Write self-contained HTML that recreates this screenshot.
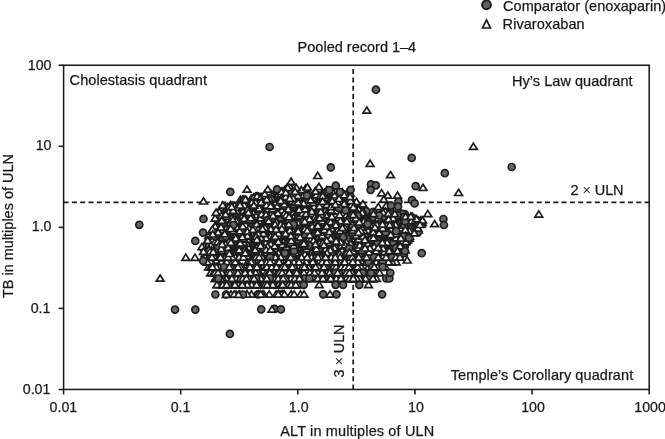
<!DOCTYPE html>
<html><head><meta charset="utf-8"><title>Pooled record 1–4</title>
<style>
html,body{margin:0;padding:0;background:#fff;}
svg{display:block;}
text{font-family:"Liberation Sans",Arial,Helvetica,sans-serif;font-size:14.2px;fill:#1a1a1a;stroke:#1a1a1a;stroke-width:0.25px;}
.lb text{font-size:14.5px;}
.mu{stroke-width:0;fill:#333;}
</style></head><body>
<svg width="665" height="439" viewBox="0 0 665 439">
<defs>
<circle id="c" r="3.5" fill="#666" stroke="#1e1e1e" stroke-width="1.7"/>
<path id="t" d="M0 -3.4 L3.9 2.8 L-3.9 2.8 Z" fill="#f6f6f6" stroke="#1e1e1e" stroke-width="1.7" stroke-linejoin="miter"/>
<filter id="bl" x="0" y="0" width="665" height="439" filterUnits="userSpaceOnUse"><feGaussianBlur stdDeviation="0.45"/></filter>
</defs>
<rect width="665" height="439" fill="#fff"/>
<g stroke="#1c1c1c" stroke-width="1.7" fill="none">
<line x1="63.6" y1="202.4" x2="649.2" y2="202.4" stroke-dasharray="5 3.3"/>
<line x1="353.2" y1="389.5" x2="353.2" y2="65.25" stroke-dasharray="5 3.3"/>
</g>
<g id="pts" filter="url(#bl)">
<use href="#t" x="271.4" y="195.9"/>
<use href="#t" x="212.1" y="244.1"/>
<use href="#c" x="208.7" y="240.6"/>
<use href="#t" x="295.2" y="278.5"/>
<use href="#t" x="247.7" y="257.3"/>
<use href="#t" x="331.2" y="226.7"/>
<use href="#t" x="345.8" y="223.7"/>
<use href="#t" x="355.6" y="230.6"/>
<use href="#t" x="333.2" y="233.8"/>
<use href="#t" x="382.5" y="267.0"/>
<use href="#t" x="330.6" y="242.8"/>
<use href="#t" x="367.1" y="213.1"/>
<use href="#t" x="222.9" y="229.4"/>
<use href="#c" x="230.9" y="238.3"/>
<use href="#t" x="352.7" y="272.8"/>
<use href="#t" x="401.6" y="216.3"/>
<use href="#t" x="335.3" y="249.7"/>
<use href="#t" x="262.2" y="225.3"/>
<use href="#t" x="225.5" y="208.0"/>
<use href="#t" x="279.7" y="284.8"/>
<use href="#t" x="250.1" y="237.8"/>
<use href="#t" x="282.1" y="248.0"/>
<use href="#t" x="358.0" y="241.6"/>
<use href="#t" x="287.6" y="227.0"/>
<use href="#c" x="218.9" y="222.6"/>
<use href="#c" x="401.3" y="253.9"/>
<use href="#t" x="254.5" y="220.5"/>
<use href="#t" x="224.0" y="284.8"/>
<use href="#t" x="305.0" y="237.6"/>
<use href="#t" x="219.1" y="219.9"/>
<use href="#t" x="256.6" y="222.9"/>
<use href="#t" x="377.2" y="243.7"/>
<use href="#t" x="272.8" y="204.9"/>
<use href="#c" x="317.2" y="221.6"/>
<use href="#t" x="281.1" y="204.6"/>
<use href="#t" x="241.4" y="202.6"/>
<use href="#c" x="349.1" y="278.5"/>
<use href="#c" x="372.0" y="236.9"/>
<use href="#t" x="381.2" y="218.7"/>
<use href="#c" x="324.5" y="193.4"/>
<use href="#t" x="415.3" y="231.4"/>
<use href="#t" x="264.1" y="207.1"/>
<use href="#t" x="256.2" y="229.5"/>
<use href="#t" x="409.8" y="221.3"/>
<use href="#t" x="235.7" y="236.3"/>
<use href="#t" x="326.3" y="217.8"/>
<use href="#t" x="326.1" y="272.8"/>
<use href="#t" x="327.2" y="208.1"/>
<use href="#t" x="377.3" y="240.6"/>
<use href="#t" x="339.6" y="240.3"/>
<use href="#t" x="358.5" y="233.7"/>
<use href="#t" x="353.0" y="272.8"/>
<use href="#t" x="231.4" y="267.0"/>
<use href="#t" x="228.7" y="284.8"/>
<use href="#t" x="233.1" y="231.1"/>
<use href="#t" x="275.0" y="201.5"/>
<use href="#c" x="342.2" y="241.2"/>
<use href="#t" x="219.7" y="210.3"/>
<use href="#c" x="357.4" y="230.3"/>
<use href="#t" x="398.6" y="233.9"/>
<use href="#t" x="225.5" y="243.0"/>
<use href="#t" x="242.6" y="216.1"/>
<use href="#t" x="374.2" y="213.3"/>
<use href="#c" x="237.0" y="220.5"/>
<use href="#t" x="325.0" y="200.7"/>
<use href="#t" x="297.0" y="239.0"/>
<use href="#t" x="287.8" y="240.5"/>
<use href="#t" x="361.8" y="257.3"/>
<use href="#t" x="211.7" y="267.0"/>
<use href="#t" x="252.2" y="213.7"/>
<use href="#t" x="232.2" y="232.9"/>
<use href="#t" x="307.0" y="240.0"/>
<use href="#c" x="216.2" y="227.1"/>
<use href="#t" x="333.2" y="243.3"/>
<use href="#t" x="350.2" y="267.0"/>
<use href="#t" x="286.9" y="217.9"/>
<use href="#t" x="230.3" y="267.0"/>
<use href="#t" x="343.1" y="267.0"/>
<use href="#t" x="227.9" y="242.6"/>
<use href="#c" x="358.6" y="205.8"/>
<use href="#t" x="326.8" y="257.3"/>
<use href="#c" x="355.6" y="238.3"/>
<use href="#t" x="321.3" y="257.3"/>
<use href="#t" x="257.7" y="267.0"/>
<use href="#t" x="285.3" y="237.0"/>
<use href="#t" x="376.0" y="254.3"/>
<use href="#t" x="370.4" y="215.1"/>
<use href="#t" x="353.6" y="262.0"/>
<use href="#t" x="263.6" y="241.7"/>
<use href="#t" x="305.1" y="191.8"/>
<use href="#t" x="332.2" y="194.8"/>
<use href="#t" x="249.6" y="284.8"/>
<use href="#t" x="301.4" y="214.8"/>
<use href="#t" x="276.2" y="216.6"/>
<use href="#t" x="280.1" y="230.6"/>
<use href="#t" x="257.7" y="241.0"/>
<use href="#t" x="386.6" y="257.3"/>
<use href="#t" x="372.6" y="257.3"/>
<use href="#t" x="306.4" y="220.1"/>
<use href="#t" x="349.8" y="214.7"/>
<use href="#t" x="288.1" y="198.0"/>
<use href="#t" x="246.9" y="294.3"/>
<use href="#t" x="256.0" y="248.4"/>
<use href="#t" x="371.9" y="228.7"/>
<use href="#t" x="318.7" y="224.2"/>
<use href="#t" x="224.7" y="240.1"/>
<use href="#t" x="253.6" y="227.1"/>
<use href="#t" x="406.4" y="236.3"/>
<use href="#t" x="318.3" y="262.0"/>
<use href="#t" x="365.3" y="257.3"/>
<use href="#c" x="302.9" y="246.1"/>
<use href="#t" x="347.3" y="215.1"/>
<use href="#t" x="254.4" y="257.3"/>
<use href="#t" x="332.6" y="225.6"/>
<use href="#c" x="403.6" y="236.6"/>
<use href="#t" x="354.2" y="229.6"/>
<use href="#t" x="369.4" y="240.3"/>
<use href="#t" x="249.5" y="204.7"/>
<use href="#t" x="239.2" y="205.0"/>
<use href="#t" x="287.9" y="203.7"/>
<use href="#t" x="287.8" y="284.8"/>
<use href="#t" x="272.7" y="200.2"/>
<use href="#t" x="284.4" y="223.8"/>
<use href="#t" x="255.7" y="272.8"/>
<use href="#t" x="275.0" y="211.1"/>
<use href="#t" x="340.6" y="209.9"/>
<use href="#c" x="269.7" y="211.5"/>
<use href="#t" x="286.2" y="208.5"/>
<use href="#t" x="377.4" y="253.1"/>
<use href="#t" x="270.4" y="222.3"/>
<use href="#t" x="325.4" y="217.8"/>
<use href="#t" x="362.5" y="233.0"/>
<use href="#t" x="293.4" y="257.3"/>
<use href="#t" x="223.6" y="284.8"/>
<use href="#t" x="328.8" y="223.7"/>
<use href="#t" x="242.0" y="208.0"/>
<use href="#t" x="231.2" y="284.8"/>
<use href="#t" x="272.0" y="226.6"/>
<use href="#t" x="314.7" y="206.0"/>
<use href="#t" x="307.0" y="278.5"/>
<use href="#c" x="399.4" y="233.3"/>
<use href="#t" x="335.7" y="257.3"/>
<use href="#t" x="282.0" y="194.7"/>
<use href="#t" x="255.2" y="252.1"/>
<use href="#t" x="243.0" y="278.5"/>
<use href="#t" x="324.8" y="257.3"/>
<use href="#t" x="233.6" y="262.0"/>
<use href="#t" x="261.9" y="215.5"/>
<use href="#t" x="268.7" y="248.0"/>
<use href="#t" x="293.3" y="284.8"/>
<use href="#t" x="280.9" y="201.7"/>
<use href="#t" x="295.0" y="278.5"/>
<use href="#c" x="403.3" y="234.8"/>
<use href="#t" x="282.5" y="240.2"/>
<use href="#t" x="261.9" y="242.3"/>
<use href="#t" x="220.7" y="238.5"/>
<use href="#t" x="232.8" y="272.8"/>
<use href="#t" x="290.5" y="284.8"/>
<use href="#t" x="238.2" y="204.3"/>
<use href="#t" x="317.2" y="225.1"/>
<use href="#t" x="253.3" y="267.0"/>
<use href="#t" x="204.7" y="247.5"/>
<use href="#t" x="336.5" y="245.9"/>
<use href="#t" x="267.3" y="229.6"/>
<use href="#t" x="295.5" y="257.3"/>
<use href="#t" x="310.5" y="206.5"/>
<use href="#c" x="379.1" y="234.4"/>
<use href="#t" x="306.7" y="190.4"/>
<use href="#t" x="216.6" y="232.4"/>
<use href="#t" x="204.6" y="257.3"/>
<use href="#t" x="368.1" y="272.8"/>
<use href="#t" x="207.8" y="240.1"/>
<use href="#t" x="277.8" y="272.8"/>
<use href="#t" x="228.9" y="239.9"/>
<use href="#t" x="244.2" y="209.9"/>
<use href="#t" x="222.2" y="243.5"/>
<use href="#t" x="279.9" y="284.8"/>
<use href="#t" x="331.3" y="222.1"/>
<use href="#t" x="299.4" y="199.1"/>
<use href="#c" x="351.6" y="216.2"/>
<use href="#t" x="297.0" y="241.2"/>
<use href="#t" x="220.1" y="221.8"/>
<use href="#t" x="332.7" y="250.8"/>
<use href="#t" x="342.2" y="236.5"/>
<use href="#t" x="217.6" y="257.3"/>
<use href="#t" x="379.6" y="227.4"/>
<use href="#t" x="277.7" y="257.3"/>
<use href="#t" x="290.8" y="206.8"/>
<use href="#t" x="338.5" y="240.5"/>
<use href="#c" x="379.8" y="267.0"/>
<use href="#t" x="370.1" y="233.7"/>
<use href="#t" x="274.2" y="272.8"/>
<use href="#t" x="325.7" y="231.6"/>
<use href="#t" x="318.5" y="210.2"/>
<use href="#t" x="272.1" y="284.8"/>
<use href="#t" x="251.4" y="294.3"/>
<use href="#t" x="298.2" y="267.0"/>
<use href="#t" x="267.6" y="203.6"/>
<use href="#c" x="276.4" y="194.8"/>
<use href="#c" x="359.5" y="267.0"/>
<use href="#t" x="334.4" y="222.5"/>
<use href="#t" x="344.7" y="278.5"/>
<use href="#t" x="261.7" y="267.0"/>
<use href="#c" x="395.9" y="254.5"/>
<use href="#t" x="292.4" y="231.7"/>
<use href="#t" x="276.8" y="267.0"/>
<use href="#t" x="246.1" y="284.8"/>
<use href="#t" x="242.7" y="272.8"/>
<use href="#t" x="276.9" y="278.5"/>
<use href="#c" x="360.1" y="239.4"/>
<use href="#t" x="359.5" y="272.8"/>
<use href="#t" x="278.9" y="227.3"/>
<use href="#t" x="407.7" y="239.8"/>
<use href="#t" x="320.4" y="272.8"/>
<use href="#t" x="347.5" y="220.7"/>
<use href="#t" x="231.7" y="284.8"/>
<use href="#c" x="377.5" y="249.6"/>
<use href="#t" x="240.2" y="214.8"/>
<use href="#t" x="253.4" y="217.9"/>
<use href="#t" x="233.0" y="218.1"/>
<use href="#t" x="297.6" y="201.6"/>
<use href="#t" x="358.7" y="239.7"/>
<use href="#t" x="304.3" y="194.8"/>
<use href="#t" x="290.5" y="267.0"/>
<use href="#t" x="296.5" y="248.9"/>
<use href="#t" x="294.4" y="205.6"/>
<use href="#t" x="396.2" y="262.0"/>
<use href="#t" x="302.1" y="216.2"/>
<use href="#t" x="218.1" y="229.6"/>
<use href="#t" x="363.3" y="257.3"/>
<use href="#t" x="295.0" y="234.0"/>
<use href="#t" x="291.6" y="262.0"/>
<use href="#t" x="238.2" y="257.3"/>
<use href="#t" x="286.7" y="238.4"/>
<use href="#t" x="218.9" y="249.0"/>
<use href="#t" x="364.3" y="241.2"/>
<use href="#t" x="390.6" y="242.4"/>
<use href="#t" x="287.6" y="272.8"/>
<use href="#c" x="259.7" y="227.1"/>
<use href="#t" x="293.8" y="229.7"/>
<use href="#t" x="278.1" y="210.2"/>
<use href="#t" x="246.7" y="278.5"/>
<use href="#t" x="386.1" y="257.3"/>
<use href="#t" x="327.6" y="205.3"/>
<use href="#t" x="278.3" y="257.3"/>
<use href="#t" x="387.6" y="235.7"/>
<use href="#t" x="324.4" y="192.7"/>
<use href="#t" x="278.7" y="284.8"/>
<use href="#t" x="283.8" y="208.8"/>
<use href="#t" x="261.4" y="207.7"/>
<use href="#t" x="308.2" y="230.7"/>
<use href="#t" x="350.6" y="222.4"/>
<use href="#c" x="391.2" y="257.3"/>
<use href="#t" x="250.1" y="272.8"/>
<use href="#t" x="231.0" y="294.3"/>
<use href="#t" x="320.3" y="272.8"/>
<use href="#c" x="403.3" y="246.5"/>
<use href="#t" x="208.8" y="235.5"/>
<use href="#t" x="312.6" y="244.6"/>
<use href="#t" x="327.8" y="262.0"/>
<use href="#t" x="283.5" y="229.5"/>
<use href="#t" x="212.8" y="257.3"/>
<use href="#t" x="414.8" y="218.4"/>
<use href="#t" x="315.5" y="237.7"/>
<use href="#t" x="274.9" y="284.8"/>
<use href="#t" x="307.0" y="242.8"/>
<use href="#t" x="244.7" y="231.5"/>
<use href="#t" x="325.8" y="278.5"/>
<use href="#t" x="390.3" y="227.6"/>
<use href="#t" x="259.1" y="240.5"/>
<use href="#t" x="349.5" y="278.5"/>
<use href="#t" x="269.8" y="214.5"/>
<use href="#c" x="344.8" y="272.8"/>
<use href="#t" x="239.8" y="294.3"/>
<use href="#t" x="340.5" y="257.3"/>
<use href="#t" x="335.7" y="262.0"/>
<use href="#t" x="352.4" y="234.4"/>
<use href="#t" x="282.1" y="278.5"/>
<use href="#t" x="327.7" y="209.3"/>
<use href="#t" x="294.5" y="216.9"/>
<use href="#t" x="386.2" y="249.1"/>
<use href="#t" x="307.2" y="228.7"/>
<use href="#t" x="347.1" y="203.6"/>
<use href="#t" x="214.9" y="257.3"/>
<use href="#t" x="234.2" y="284.8"/>
<use href="#t" x="298.5" y="262.0"/>
<use href="#t" x="383.2" y="222.5"/>
<use href="#t" x="343.6" y="229.4"/>
<use href="#t" x="328.8" y="213.6"/>
<use href="#t" x="273.4" y="252.9"/>
<use href="#t" x="391.2" y="252.3"/>
<use href="#t" x="296.1" y="284.8"/>
<use href="#t" x="356.6" y="252.4"/>
<use href="#c" x="385.6" y="212.5"/>
<use href="#t" x="257.1" y="229.9"/>
<use href="#t" x="330.0" y="211.3"/>
<use href="#t" x="385.5" y="262.0"/>
<use href="#t" x="354.9" y="235.3"/>
<use href="#t" x="255.1" y="272.8"/>
<use href="#t" x="307.5" y="250.8"/>
<use href="#t" x="240.4" y="199.6"/>
<use href="#t" x="280.6" y="247.7"/>
<use href="#c" x="317.1" y="195.7"/>
<use href="#t" x="344.3" y="278.5"/>
<use href="#t" x="335.9" y="220.2"/>
<use href="#t" x="399.4" y="237.9"/>
<use href="#t" x="256.7" y="272.8"/>
<use href="#t" x="242.4" y="199.6"/>
<use href="#t" x="207.0" y="246.8"/>
<use href="#t" x="210.1" y="251.9"/>
<use href="#t" x="328.2" y="257.3"/>
<use href="#t" x="353.1" y="226.3"/>
<use href="#t" x="278.1" y="294.3"/>
<use href="#t" x="229.2" y="272.8"/>
<use href="#t" x="354.7" y="214.4"/>
<use href="#t" x="234.8" y="206.9"/>
<use href="#t" x="247.1" y="294.3"/>
<use href="#t" x="228.0" y="233.0"/>
<use href="#t" x="301.8" y="219.6"/>
<use href="#t" x="307.7" y="257.3"/>
<use href="#t" x="325.6" y="195.1"/>
<use href="#t" x="257.9" y="228.6"/>
<use href="#t" x="259.0" y="284.8"/>
<use href="#t" x="234.6" y="238.5"/>
<use href="#t" x="244.8" y="236.8"/>
<use href="#t" x="255.8" y="202.3"/>
<use href="#t" x="208.6" y="267.0"/>
<use href="#c" x="275.5" y="194.6"/>
<use href="#c" x="391.4" y="243.0"/>
<use href="#t" x="329.8" y="194.3"/>
<use href="#c" x="376.8" y="267.0"/>
<use href="#t" x="311.9" y="211.3"/>
<use href="#t" x="339.5" y="267.0"/>
<use href="#t" x="332.6" y="202.3"/>
<use href="#t" x="367.9" y="228.1"/>
<use href="#c" x="391.3" y="223.0"/>
<use href="#c" x="282.6" y="251.5"/>
<use href="#t" x="317.7" y="232.9"/>
<use href="#t" x="223.5" y="267.0"/>
<use href="#t" x="399.3" y="217.2"/>
<use href="#t" x="285.0" y="272.8"/>
<use href="#t" x="316.1" y="243.5"/>
<use href="#t" x="336.5" y="249.2"/>
<use href="#t" x="311.5" y="239.7"/>
<use href="#t" x="223.8" y="227.8"/>
<use href="#t" x="330.2" y="272.8"/>
<use href="#t" x="294.2" y="284.8"/>
<use href="#t" x="274.9" y="207.1"/>
<use href="#t" x="207.6" y="241.8"/>
<use href="#t" x="344.3" y="222.7"/>
<use href="#t" x="211.3" y="231.3"/>
<use href="#t" x="355.1" y="211.3"/>
<use href="#t" x="317.8" y="231.3"/>
<use href="#t" x="262.9" y="215.3"/>
<use href="#t" x="223.4" y="251.5"/>
<use href="#t" x="316.3" y="210.6"/>
<use href="#t" x="321.0" y="195.6"/>
<use href="#t" x="226.0" y="213.8"/>
<use href="#t" x="263.0" y="207.5"/>
<use href="#t" x="329.6" y="257.3"/>
<use href="#t" x="362.6" y="234.7"/>
<use href="#t" x="339.6" y="235.8"/>
<use href="#t" x="252.2" y="204.8"/>
<use href="#c" x="285.4" y="250.4"/>
<use href="#t" x="278.2" y="284.8"/>
<use href="#t" x="326.4" y="238.6"/>
<use href="#t" x="298.8" y="267.0"/>
<use href="#t" x="231.5" y="219.2"/>
<use href="#t" x="354.4" y="254.2"/>
<use href="#t" x="388.8" y="241.9"/>
<use href="#t" x="370.4" y="272.8"/>
<use href="#t" x="380.2" y="267.0"/>
<use href="#c" x="225.0" y="284.8"/>
<use href="#t" x="375.7" y="250.4"/>
<use href="#t" x="284.6" y="233.7"/>
<use href="#t" x="365.6" y="213.7"/>
<use href="#t" x="326.1" y="225.2"/>
<use href="#t" x="299.8" y="200.1"/>
<use href="#t" x="229.2" y="249.1"/>
<use href="#t" x="243.2" y="230.4"/>
<use href="#t" x="317.1" y="262.0"/>
<use href="#t" x="279.4" y="251.5"/>
<use href="#t" x="218.4" y="223.9"/>
<use href="#t" x="327.5" y="248.9"/>
<use href="#t" x="320.1" y="278.5"/>
<use href="#t" x="316.0" y="190.8"/>
<use href="#t" x="357.8" y="278.5"/>
<use href="#c" x="404.6" y="229.7"/>
<use href="#t" x="263.4" y="241.1"/>
<use href="#t" x="337.3" y="221.3"/>
<use href="#t" x="380.9" y="215.4"/>
<use href="#t" x="333.3" y="262.0"/>
<use href="#t" x="312.5" y="246.3"/>
<use href="#t" x="347.6" y="243.6"/>
<use href="#t" x="330.6" y="228.5"/>
<use href="#t" x="232.0" y="272.8"/>
<use href="#t" x="389.3" y="253.8"/>
<use href="#t" x="271.2" y="267.0"/>
<use href="#t" x="235.0" y="210.4"/>
<use href="#t" x="301.2" y="225.3"/>
<use href="#t" x="405.2" y="250.0"/>
<use href="#t" x="298.8" y="257.3"/>
<use href="#t" x="269.3" y="294.3"/>
<use href="#t" x="401.6" y="237.7"/>
<use href="#t" x="252.4" y="198.7"/>
<use href="#t" x="327.5" y="191.4"/>
<use href="#t" x="286.0" y="227.5"/>
<use href="#t" x="224.1" y="278.5"/>
<use href="#t" x="252.8" y="201.0"/>
<use href="#t" x="275.6" y="196.5"/>
<use href="#t" x="225.2" y="232.5"/>
<use href="#t" x="365.5" y="224.2"/>
<use href="#t" x="248.6" y="233.7"/>
<use href="#t" x="333.7" y="223.1"/>
<use href="#t" x="338.5" y="203.6"/>
<use href="#t" x="224.0" y="241.3"/>
<use href="#t" x="258.8" y="272.8"/>
<use href="#t" x="350.2" y="248.1"/>
<use href="#t" x="287.0" y="187.8"/>
<use href="#t" x="395.8" y="217.2"/>
<use href="#t" x="220.7" y="247.4"/>
<use href="#t" x="313.1" y="214.2"/>
<use href="#t" x="268.5" y="205.4"/>
<use href="#t" x="364.1" y="212.4"/>
<use href="#t" x="277.9" y="228.7"/>
<use href="#t" x="278.1" y="257.3"/>
<use href="#t" x="345.6" y="199.5"/>
<use href="#t" x="329.6" y="267.0"/>
<use href="#t" x="297.6" y="262.0"/>
<use href="#t" x="221.2" y="278.5"/>
<use href="#t" x="358.9" y="226.3"/>
<use href="#c" x="390.6" y="212.2"/>
<use href="#t" x="418.3" y="230.1"/>
<use href="#t" x="358.2" y="267.0"/>
<use href="#c" x="343.2" y="233.7"/>
<use href="#t" x="359.8" y="230.7"/>
<use href="#t" x="256.6" y="245.5"/>
<use href="#t" x="345.5" y="245.2"/>
<use href="#t" x="242.5" y="215.9"/>
<use href="#t" x="361.8" y="262.0"/>
<use href="#t" x="252.0" y="241.6"/>
<use href="#t" x="415.9" y="221.0"/>
<use href="#t" x="273.7" y="278.5"/>
<use href="#t" x="336.3" y="234.8"/>
<use href="#t" x="280.1" y="202.9"/>
<use href="#t" x="261.3" y="201.7"/>
<use href="#t" x="300.7" y="191.2"/>
<use href="#t" x="305.6" y="222.5"/>
<use href="#t" x="310.4" y="231.4"/>
<use href="#t" x="347.1" y="257.3"/>
<use href="#t" x="349.0" y="208.5"/>
<use href="#c" x="393.1" y="214.1"/>
<use href="#t" x="234.8" y="272.8"/>
<use href="#t" x="370.2" y="217.9"/>
<use href="#t" x="389.8" y="217.1"/>
<use href="#t" x="325.1" y="223.3"/>
<use href="#t" x="343.3" y="278.5"/>
<use href="#t" x="312.9" y="196.7"/>
<use href="#t" x="233.6" y="232.5"/>
<use href="#c" x="240.0" y="267.0"/>
<use href="#t" x="295.4" y="212.5"/>
<use href="#t" x="316.5" y="229.8"/>
<use href="#t" x="298.5" y="262.0"/>
<use href="#t" x="299.6" y="247.6"/>
<use href="#c" x="341.3" y="278.5"/>
<use href="#t" x="354.6" y="253.3"/>
<use href="#t" x="347.8" y="214.5"/>
<use href="#c" x="355.2" y="233.1"/>
<use href="#t" x="350.9" y="223.6"/>
<use href="#t" x="293.3" y="243.4"/>
<use href="#t" x="288.5" y="191.3"/>
<use href="#c" x="405.0" y="245.7"/>
<use href="#t" x="320.3" y="208.5"/>
<use href="#t" x="325.7" y="205.4"/>
<use href="#t" x="221.7" y="241.3"/>
<use href="#t" x="213.9" y="228.1"/>
<use href="#t" x="298.7" y="284.8"/>
<use href="#c" x="363.6" y="272.8"/>
<use href="#c" x="390.9" y="226.1"/>
<use href="#t" x="227.3" y="272.8"/>
<use href="#c" x="250.9" y="223.7"/>
<use href="#t" x="335.3" y="203.7"/>
<use href="#t" x="362.0" y="230.4"/>
<use href="#t" x="370.9" y="219.8"/>
<use href="#c" x="355.6" y="278.5"/>
<use href="#t" x="283.0" y="267.0"/>
<use href="#t" x="218.5" y="245.8"/>
<use href="#t" x="255.1" y="201.2"/>
<use href="#c" x="392.8" y="249.8"/>
<use href="#t" x="238.7" y="246.4"/>
<use href="#t" x="357.2" y="224.7"/>
<use href="#t" x="401.6" y="244.5"/>
<use href="#t" x="275.8" y="195.9"/>
<use href="#t" x="238.0" y="278.5"/>
<use href="#t" x="287.6" y="236.6"/>
<use href="#t" x="394.4" y="226.3"/>
<use href="#t" x="246.1" y="284.8"/>
<use href="#t" x="305.4" y="249.3"/>
<use href="#t" x="353.3" y="211.2"/>
<use href="#t" x="313.0" y="209.8"/>
<use href="#t" x="344.8" y="222.5"/>
<use href="#t" x="355.8" y="215.1"/>
<use href="#t" x="369.5" y="240.8"/>
<use href="#t" x="277.7" y="246.0"/>
<use href="#t" x="252.4" y="206.4"/>
<use href="#t" x="301.9" y="232.8"/>
<use href="#t" x="266.4" y="198.2"/>
<use href="#t" x="266.2" y="215.7"/>
<use href="#t" x="237.2" y="249.7"/>
<use href="#t" x="279.2" y="272.8"/>
<use href="#t" x="242.3" y="252.5"/>
<use href="#t" x="348.0" y="201.6"/>
<use href="#t" x="245.1" y="217.9"/>
<use href="#t" x="348.1" y="227.8"/>
<use href="#t" x="205.7" y="257.3"/>
<use href="#t" x="311.7" y="251.9"/>
<use href="#t" x="339.9" y="267.0"/>
<use href="#t" x="294.9" y="244.5"/>
<use href="#t" x="326.0" y="257.3"/>
<use href="#t" x="273.1" y="267.0"/>
<use href="#t" x="362.9" y="272.8"/>
<use href="#t" x="268.0" y="272.8"/>
<use href="#t" x="301.9" y="211.9"/>
<use href="#t" x="307.3" y="257.3"/>
<use href="#t" x="326.0" y="199.8"/>
<use href="#t" x="281.3" y="195.7"/>
<use href="#t" x="276.2" y="278.5"/>
<use href="#t" x="289.8" y="284.8"/>
<use href="#t" x="328.2" y="228.4"/>
<use href="#t" x="254.5" y="209.9"/>
<use href="#t" x="249.6" y="202.5"/>
<use href="#t" x="346.7" y="214.4"/>
<use href="#t" x="246.1" y="248.4"/>
<use href="#t" x="372.4" y="278.5"/>
<use href="#t" x="273.2" y="237.8"/>
<use href="#t" x="233.1" y="262.0"/>
<use href="#t" x="301.9" y="249.6"/>
<use href="#t" x="244.5" y="284.8"/>
<use href="#c" x="381.9" y="262.0"/>
<use href="#t" x="314.1" y="206.0"/>
<use href="#t" x="269.7" y="284.8"/>
<use href="#t" x="310.0" y="194.0"/>
<use href="#t" x="237.2" y="262.0"/>
<use href="#c" x="369.2" y="239.7"/>
<use href="#t" x="278.4" y="239.2"/>
<use href="#t" x="277.5" y="204.0"/>
<use href="#t" x="236.8" y="210.2"/>
<use href="#c" x="326.4" y="222.4"/>
<use href="#t" x="357.4" y="257.3"/>
<use href="#t" x="324.5" y="262.0"/>
<use href="#t" x="270.1" y="229.5"/>
<use href="#t" x="286.4" y="225.3"/>
<use href="#t" x="339.2" y="224.2"/>
<use href="#t" x="358.8" y="217.6"/>
<use href="#t" x="324.6" y="216.5"/>
<use href="#t" x="315.4" y="251.2"/>
<use href="#t" x="250.3" y="257.3"/>
<use href="#t" x="284.4" y="267.0"/>
<use href="#t" x="319.2" y="253.8"/>
<use href="#t" x="271.0" y="257.3"/>
<use href="#t" x="247.7" y="253.7"/>
<use href="#t" x="409.5" y="236.3"/>
<use href="#t" x="318.2" y="236.7"/>
<use href="#t" x="318.6" y="243.1"/>
<use href="#t" x="251.3" y="198.6"/>
<use href="#t" x="303.6" y="257.3"/>
<use href="#t" x="285.0" y="278.5"/>
<use href="#t" x="219.3" y="221.7"/>
<use href="#t" x="318.0" y="233.7"/>
<use href="#t" x="301.0" y="236.9"/>
<use href="#t" x="281.6" y="242.2"/>
<use href="#t" x="282.5" y="219.6"/>
<use href="#t" x="259.8" y="217.6"/>
<use href="#t" x="382.0" y="254.4"/>
<use href="#t" x="363.2" y="214.0"/>
<use href="#t" x="348.0" y="278.5"/>
<use href="#t" x="285.9" y="249.5"/>
<use href="#t" x="282.9" y="262.0"/>
<use href="#t" x="211.7" y="272.8"/>
<use href="#t" x="319.1" y="239.2"/>
<use href="#t" x="304.2" y="234.9"/>
<use href="#t" x="292.9" y="236.3"/>
<use href="#t" x="298.8" y="238.6"/>
<use href="#t" x="389.6" y="262.0"/>
<use href="#t" x="325.7" y="272.8"/>
<use href="#c" x="372.8" y="247.7"/>
<use href="#t" x="355.7" y="267.0"/>
<use href="#t" x="207.9" y="262.0"/>
<use href="#t" x="259.8" y="209.9"/>
<use href="#t" x="255.2" y="284.8"/>
<use href="#t" x="315.6" y="229.7"/>
<use href="#t" x="266.9" y="284.8"/>
<use href="#t" x="207.3" y="244.3"/>
<use href="#t" x="304.6" y="238.3"/>
<use href="#t" x="281.3" y="278.5"/>
<use href="#t" x="269.2" y="243.8"/>
<use href="#t" x="328.3" y="217.5"/>
<use href="#t" x="382.9" y="213.5"/>
<use href="#t" x="384.4" y="251.2"/>
<use href="#t" x="415.6" y="232.7"/>
<use href="#t" x="335.7" y="199.6"/>
<use href="#t" x="327.4" y="278.5"/>
<use href="#t" x="354.0" y="262.0"/>
<use href="#t" x="244.8" y="284.8"/>
<use href="#t" x="217.5" y="272.8"/>
<use href="#t" x="292.9" y="257.3"/>
<use href="#c" x="208.4" y="262.0"/>
<use href="#c" x="392.3" y="213.8"/>
<use href="#t" x="332.4" y="216.9"/>
<use href="#t" x="284.7" y="257.3"/>
<use href="#t" x="366.9" y="230.9"/>
<use href="#t" x="222.0" y="278.5"/>
<use href="#t" x="319.2" y="213.4"/>
<use href="#t" x="372.1" y="239.2"/>
<use href="#t" x="216.9" y="237.7"/>
<use href="#t" x="336.1" y="244.8"/>
<use href="#t" x="228.0" y="211.0"/>
<use href="#t" x="253.4" y="272.8"/>
<use href="#c" x="380.9" y="214.4"/>
<use href="#t" x="381.0" y="251.6"/>
<use href="#t" x="278.3" y="224.0"/>
<use href="#t" x="273.3" y="284.8"/>
<use href="#t" x="308.3" y="195.7"/>
<use href="#t" x="321.5" y="191.7"/>
<use href="#t" x="233.7" y="244.1"/>
<use href="#t" x="281.6" y="201.8"/>
<use href="#t" x="400.7" y="239.9"/>
<use href="#t" x="381.7" y="248.5"/>
<use href="#t" x="249.1" y="272.8"/>
<use href="#t" x="317.3" y="213.6"/>
<use href="#t" x="214.9" y="249.5"/>
<use href="#t" x="335.5" y="272.8"/>
<use href="#t" x="358.3" y="278.5"/>
<use href="#t" x="386.3" y="234.9"/>
<use href="#t" x="291.1" y="188.0"/>
<use href="#c" x="368.2" y="262.0"/>
<use href="#t" x="276.3" y="194.6"/>
<use href="#t" x="246.8" y="218.5"/>
<use href="#t" x="312.4" y="272.8"/>
<use href="#t" x="372.3" y="257.3"/>
<use href="#t" x="216.8" y="267.0"/>
<use href="#t" x="297.7" y="278.5"/>
<use href="#t" x="400.5" y="214.5"/>
<use href="#t" x="303.1" y="206.7"/>
<use href="#t" x="287.5" y="272.8"/>
<use href="#t" x="290.9" y="187.9"/>
<use href="#t" x="392.4" y="219.6"/>
<use href="#t" x="386.7" y="229.5"/>
<use href="#t" x="303.0" y="219.0"/>
<use href="#t" x="278.5" y="284.8"/>
<use href="#t" x="360.5" y="232.4"/>
<use href="#t" x="247.9" y="284.8"/>
<use href="#t" x="406.0" y="226.4"/>
<use href="#t" x="239.7" y="278.5"/>
<use href="#t" x="254.2" y="221.1"/>
<use href="#t" x="283.9" y="294.3"/>
<use href="#t" x="212.9" y="257.3"/>
<use href="#t" x="421.1" y="222.3"/>
<use href="#t" x="344.1" y="224.1"/>
<use href="#t" x="392.0" y="262.0"/>
<use href="#t" x="300.7" y="272.8"/>
<use href="#c" x="367.0" y="272.8"/>
<use href="#t" x="271.7" y="194.2"/>
<use href="#t" x="371.4" y="257.3"/>
<use href="#t" x="374.9" y="213.5"/>
<use href="#t" x="385.0" y="262.0"/>
<use href="#t" x="260.5" y="197.3"/>
<use href="#t" x="228.0" y="241.7"/>
<use href="#t" x="233.3" y="267.0"/>
<use href="#t" x="239.2" y="215.8"/>
<use href="#t" x="241.6" y="217.2"/>
<use href="#t" x="392.6" y="257.3"/>
<use href="#t" x="269.3" y="196.1"/>
<use href="#t" x="306.0" y="247.0"/>
<use href="#t" x="343.7" y="209.5"/>
<use href="#t" x="372.9" y="262.0"/>
<use href="#t" x="358.3" y="272.8"/>
<use href="#t" x="287.6" y="278.5"/>
<use href="#t" x="238.8" y="284.8"/>
<use href="#t" x="318.0" y="262.0"/>
<use href="#t" x="226.5" y="219.4"/>
<use href="#t" x="292.5" y="239.9"/>
<use href="#t" x="352.6" y="249.4"/>
<use href="#t" x="330.4" y="211.3"/>
<use href="#t" x="353.5" y="272.8"/>
<use href="#t" x="388.8" y="257.3"/>
<use href="#t" x="226.0" y="267.0"/>
<use href="#c" x="339.5" y="211.5"/>
<use href="#t" x="337.4" y="278.5"/>
<use href="#t" x="245.3" y="205.1"/>
<use href="#t" x="279.9" y="267.0"/>
<use href="#c" x="392.9" y="217.7"/>
<use href="#t" x="343.5" y="194.4"/>
<use href="#t" x="275.3" y="218.5"/>
<use href="#t" x="246.4" y="278.5"/>
<use href="#t" x="314.1" y="230.1"/>
<use href="#t" x="343.7" y="267.0"/>
<use href="#t" x="289.4" y="241.2"/>
<use href="#t" x="248.4" y="284.8"/>
<use href="#t" x="226.6" y="233.9"/>
<use href="#t" x="362.2" y="234.0"/>
<use href="#t" x="239.8" y="227.5"/>
<use href="#t" x="240.8" y="267.0"/>
<use href="#t" x="298.5" y="201.8"/>
<use href="#t" x="241.4" y="210.3"/>
<use href="#t" x="343.7" y="210.1"/>
<use href="#t" x="233.6" y="257.3"/>
<use href="#t" x="278.8" y="294.3"/>
<use href="#t" x="378.5" y="236.0"/>
<use href="#t" x="328.0" y="240.6"/>
<use href="#t" x="298.1" y="267.0"/>
<use href="#c" x="380.5" y="235.1"/>
<use href="#c" x="404.8" y="243.9"/>
<use href="#t" x="271.3" y="257.3"/>
<use href="#t" x="309.3" y="257.3"/>
<use href="#t" x="219.5" y="251.1"/>
<use href="#t" x="242.2" y="234.2"/>
<use href="#t" x="345.2" y="267.0"/>
<use href="#t" x="210.9" y="267.0"/>
<use href="#t" x="306.1" y="227.1"/>
<use href="#t" x="358.3" y="236.1"/>
<use href="#t" x="287.6" y="278.5"/>
<use href="#c" x="344.6" y="272.8"/>
<use href="#c" x="257.1" y="196.2"/>
<use href="#t" x="233.4" y="241.2"/>
<use href="#t" x="388.8" y="240.0"/>
<use href="#t" x="335.3" y="278.5"/>
<use href="#t" x="207.8" y="245.3"/>
<use href="#t" x="303.1" y="192.3"/>
<use href="#t" x="243.9" y="230.8"/>
<use href="#t" x="217.2" y="267.0"/>
<use href="#t" x="266.4" y="272.8"/>
<use href="#t" x="358.4" y="252.0"/>
<use href="#t" x="302.5" y="228.0"/>
<use href="#t" x="395.6" y="231.0"/>
<use href="#t" x="277.2" y="217.6"/>
<use href="#c" x="253.9" y="228.7"/>
<use href="#t" x="249.5" y="284.8"/>
<use href="#t" x="272.6" y="272.8"/>
<use href="#t" x="219.7" y="278.5"/>
<use href="#t" x="343.0" y="223.0"/>
<use href="#t" x="348.4" y="244.5"/>
<use href="#t" x="291.2" y="294.3"/>
<use href="#t" x="298.4" y="262.0"/>
<use href="#t" x="371.1" y="272.8"/>
<use href="#t" x="244.4" y="209.5"/>
<use href="#t" x="346.8" y="251.1"/>
<use href="#t" x="336.1" y="262.0"/>
<use href="#t" x="280.3" y="194.8"/>
<use href="#t" x="259.5" y="272.8"/>
<use href="#t" x="218.6" y="215.0"/>
<use href="#t" x="357.7" y="232.7"/>
<use href="#t" x="248.4" y="284.8"/>
<use href="#c" x="353.3" y="211.8"/>
<use href="#t" x="350.6" y="250.5"/>
<use href="#t" x="329.4" y="205.0"/>
<use href="#t" x="422.3" y="222.6"/>
<use href="#t" x="227.7" y="278.5"/>
<use href="#t" x="281.4" y="242.5"/>
<use href="#t" x="253.6" y="278.5"/>
<use href="#t" x="284.9" y="272.8"/>
<use href="#t" x="240.8" y="204.4"/>
<use href="#t" x="281.2" y="257.3"/>
<use href="#t" x="298.4" y="191.5"/>
<use href="#t" x="308.2" y="198.8"/>
<use href="#t" x="298.9" y="191.8"/>
<use href="#t" x="280.2" y="235.8"/>
<use href="#t" x="370.6" y="247.5"/>
<use href="#t" x="235.3" y="284.8"/>
<use href="#t" x="303.8" y="267.0"/>
<use href="#t" x="301.9" y="216.8"/>
<use href="#t" x="351.5" y="222.3"/>
<use href="#t" x="321.8" y="206.3"/>
<use href="#t" x="337.8" y="257.3"/>
<use href="#t" x="397.3" y="223.1"/>
<use href="#t" x="237.9" y="205.4"/>
<use href="#t" x="240.2" y="272.8"/>
<use href="#t" x="416.7" y="227.4"/>
<use href="#t" x="307.6" y="241.1"/>
<use href="#t" x="246.1" y="278.5"/>
<use href="#c" x="276.0" y="262.0"/>
<use href="#t" x="283.3" y="197.3"/>
<use href="#t" x="302.2" y="247.4"/>
<use href="#t" x="227.5" y="207.1"/>
<use href="#t" x="318.2" y="249.9"/>
<use href="#t" x="333.2" y="233.7"/>
<use href="#t" x="294.1" y="243.3"/>
<use href="#t" x="385.5" y="257.3"/>
<use href="#t" x="333.4" y="278.5"/>
<use href="#t" x="358.3" y="209.0"/>
<use href="#t" x="281.4" y="242.6"/>
<use href="#t" x="212.3" y="267.0"/>
<use href="#t" x="306.3" y="262.0"/>
<use href="#t" x="362.4" y="257.3"/>
<use href="#t" x="249.9" y="267.0"/>
<use href="#t" x="351.5" y="272.8"/>
<use href="#t" x="247.5" y="203.9"/>
<use href="#t" x="294.3" y="186.7"/>
<use href="#t" x="361.2" y="231.8"/>
<use href="#t" x="233.0" y="223.3"/>
<use href="#t" x="344.8" y="267.0"/>
<use href="#t" x="241.3" y="272.8"/>
<use href="#t" x="255.4" y="278.5"/>
<use href="#c" x="366.2" y="211.1"/>
<use href="#c" x="235.9" y="262.0"/>
<use href="#t" x="249.3" y="210.2"/>
<use href="#t" x="274.1" y="242.4"/>
<use href="#t" x="293.5" y="237.0"/>
<use href="#t" x="216.6" y="257.3"/>
<use href="#t" x="257.1" y="278.5"/>
<use href="#t" x="275.6" y="238.6"/>
<use href="#t" x="231.3" y="262.0"/>
<use href="#t" x="240.1" y="267.0"/>
<use href="#t" x="351.6" y="247.8"/>
<use href="#t" x="240.5" y="250.0"/>
<use href="#t" x="344.6" y="207.2"/>
<use href="#t" x="294.9" y="243.8"/>
<use href="#t" x="263.6" y="257.3"/>
<use href="#t" x="268.4" y="262.0"/>
<use href="#t" x="232.1" y="205.4"/>
<use href="#t" x="382.5" y="215.8"/>
<use href="#t" x="304.0" y="201.8"/>
<use href="#t" x="314.6" y="242.3"/>
<use href="#t" x="364.1" y="243.3"/>
<use href="#t" x="309.1" y="208.7"/>
<use href="#t" x="247.4" y="216.9"/>
<use href="#t" x="363.1" y="272.8"/>
<use href="#t" x="300.5" y="294.3"/>
<use href="#t" x="219.8" y="234.1"/>
<use href="#c" x="341.2" y="214.6"/>
<use href="#t" x="372.2" y="272.8"/>
<use href="#t" x="215.2" y="226.4"/>
<use href="#t" x="375.5" y="230.4"/>
<use href="#t" x="222.6" y="209.5"/>
<use href="#t" x="304.8" y="267.0"/>
<use href="#t" x="220.3" y="278.5"/>
<use href="#t" x="253.5" y="209.0"/>
<use href="#t" x="270.8" y="198.7"/>
<use href="#t" x="275.6" y="200.5"/>
<use href="#t" x="281.3" y="223.9"/>
<use href="#t" x="284.3" y="190.8"/>
<use href="#t" x="409.7" y="228.4"/>
<use href="#t" x="366.8" y="272.8"/>
<use href="#t" x="254.8" y="257.3"/>
<use href="#t" x="274.4" y="278.5"/>
<use href="#c" x="354.8" y="257.3"/>
<use href="#t" x="400.4" y="245.6"/>
<use href="#t" x="275.1" y="272.8"/>
<use href="#t" x="241.8" y="234.9"/>
<use href="#c" x="401.3" y="248.8"/>
<use href="#t" x="333.6" y="278.5"/>
<use href="#t" x="309.2" y="229.2"/>
<use href="#t" x="352.1" y="203.1"/>
<use href="#t" x="334.4" y="231.2"/>
<use href="#t" x="296.3" y="188.6"/>
<use href="#t" x="247.5" y="272.8"/>
<use href="#t" x="246.7" y="284.8"/>
<use href="#t" x="297.3" y="224.7"/>
<use href="#t" x="272.7" y="267.0"/>
<use href="#t" x="324.1" y="239.7"/>
<use href="#t" x="327.4" y="278.5"/>
<use href="#t" x="400.0" y="222.3"/>
<use href="#t" x="228.9" y="257.3"/>
<use href="#t" x="295.0" y="252.4"/>
<use href="#t" x="260.1" y="229.7"/>
<use href="#t" x="305.5" y="188.6"/>
<use href="#t" x="364.2" y="272.8"/>
<use href="#t" x="255.3" y="241.7"/>
<use href="#t" x="333.2" y="267.0"/>
<use href="#t" x="363.1" y="267.0"/>
<use href="#c" x="417.8" y="232.5"/>
<use href="#c" x="383.1" y="262.0"/>
<use href="#t" x="303.6" y="257.3"/>
<use href="#t" x="274.3" y="272.8"/>
<use href="#t" x="340.9" y="215.0"/>
<use href="#t" x="269.5" y="240.2"/>
<use href="#t" x="308.2" y="232.1"/>
<use href="#t" x="241.7" y="251.2"/>
<use href="#t" x="295.3" y="221.1"/>
<use href="#t" x="287.5" y="196.1"/>
<use href="#t" x="366.9" y="221.4"/>
<use href="#t" x="412.2" y="227.3"/>
<use href="#t" x="265.4" y="246.4"/>
<use href="#t" x="281.3" y="284.8"/>
<use href="#t" x="334.2" y="262.0"/>
<use href="#t" x="308.2" y="239.1"/>
<use href="#t" x="406.3" y="220.8"/>
<use href="#t" x="273.5" y="225.5"/>
<use href="#t" x="286.5" y="222.5"/>
<use href="#t" x="322.2" y="211.6"/>
<use href="#c" x="413.3" y="231.4"/>
<use href="#c" x="362.2" y="257.3"/>
<use href="#t" x="254.8" y="206.2"/>
<use href="#t" x="381.7" y="249.1"/>
<use href="#t" x="403.0" y="252.3"/>
<use href="#t" x="236.3" y="225.0"/>
<use href="#t" x="292.7" y="262.0"/>
<use href="#t" x="366.9" y="228.2"/>
<use href="#t" x="269.7" y="224.2"/>
<use href="#t" x="270.1" y="272.8"/>
<use href="#t" x="339.2" y="196.9"/>
<use href="#t" x="310.3" y="211.5"/>
<use href="#t" x="230.2" y="272.8"/>
<use href="#t" x="219.3" y="211.7"/>
<use href="#t" x="400.6" y="232.4"/>
<use href="#t" x="255.6" y="267.0"/>
<use href="#t" x="218.0" y="238.9"/>
<use href="#t" x="245.6" y="257.3"/>
<use href="#t" x="282.4" y="294.3"/>
<use href="#t" x="295.7" y="248.6"/>
<use href="#t" x="374.0" y="234.2"/>
<use href="#t" x="223.0" y="272.8"/>
<use href="#t" x="322.7" y="267.0"/>
<use href="#t" x="345.3" y="224.2"/>
<use href="#t" x="364.6" y="267.0"/>
<use href="#t" x="313.0" y="219.1"/>
<use href="#t" x="377.0" y="257.3"/>
<use href="#c" x="396.7" y="232.6"/>
<use href="#t" x="232.9" y="262.0"/>
<use href="#t" x="290.6" y="198.0"/>
<use href="#t" x="306.0" y="238.8"/>
<use href="#t" x="281.8" y="246.4"/>
<use href="#t" x="334.1" y="197.3"/>
<use href="#t" x="228.1" y="250.0"/>
<use href="#t" x="285.9" y="245.6"/>
<use href="#t" x="262.1" y="257.3"/>
<use href="#t" x="337.7" y="214.6"/>
<use href="#t" x="314.8" y="191.8"/>
<use href="#t" x="352.9" y="262.0"/>
<use href="#c" x="334.1" y="278.5"/>
<use href="#t" x="242.8" y="199.5"/>
<use href="#t" x="402.8" y="241.6"/>
<use href="#t" x="221.1" y="272.8"/>
<use href="#t" x="229.9" y="222.6"/>
<use href="#t" x="342.1" y="257.3"/>
<use href="#t" x="366.4" y="246.1"/>
<use href="#t" x="330.6" y="247.2"/>
<use href="#t" x="294.7" y="206.7"/>
<use href="#t" x="252.1" y="278.5"/>
<use href="#t" x="216.8" y="236.8"/>
<use href="#t" x="274.2" y="272.8"/>
<use href="#t" x="295.0" y="215.7"/>
<use href="#t" x="267.1" y="217.6"/>
<use href="#t" x="361.7" y="230.7"/>
<use href="#t" x="347.9" y="196.6"/>
<use href="#t" x="208.8" y="240.5"/>
<use href="#t" x="219.2" y="272.8"/>
<use href="#t" x="315.5" y="198.1"/>
<use href="#t" x="297.3" y="262.0"/>
<use href="#t" x="289.0" y="201.9"/>
<use href="#t" x="257.8" y="262.0"/>
<use href="#t" x="289.6" y="262.0"/>
<use href="#t" x="313.5" y="238.2"/>
<use href="#t" x="353.1" y="239.1"/>
<use href="#t" x="263.9" y="294.3"/>
<use href="#t" x="228.3" y="237.6"/>
<use href="#t" x="356.8" y="262.0"/>
<use href="#t" x="207.7" y="250.0"/>
<use href="#t" x="277.1" y="262.0"/>
<use href="#t" x="363.1" y="211.7"/>
<use href="#t" x="231.7" y="284.8"/>
<use href="#t" x="222.2" y="224.7"/>
<use href="#t" x="317.4" y="237.5"/>
<use href="#t" x="283.2" y="241.0"/>
<use href="#t" x="247.5" y="211.8"/>
<use href="#t" x="313.9" y="229.5"/>
<use href="#t" x="238.8" y="243.6"/>
<use href="#t" x="376.7" y="267.0"/>
<use href="#t" x="317.1" y="208.2"/>
<use href="#t" x="315.6" y="224.0"/>
<use href="#t" x="289.9" y="267.0"/>
<use href="#t" x="308.9" y="267.0"/>
<use href="#t" x="301.7" y="221.9"/>
<use href="#t" x="279.8" y="272.8"/>
<use href="#t" x="243.9" y="206.3"/>
<use href="#t" x="349.5" y="262.0"/>
<use href="#c" x="358.7" y="211.2"/>
<use href="#t" x="318.8" y="262.0"/>
<use href="#t" x="220.6" y="278.5"/>
<use href="#t" x="310.1" y="223.3"/>
<use href="#t" x="310.0" y="267.0"/>
<use href="#t" x="294.4" y="216.4"/>
<use href="#t" x="240.4" y="272.8"/>
<use href="#t" x="288.8" y="251.6"/>
<use href="#t" x="273.6" y="262.0"/>
<use href="#t" x="339.2" y="213.8"/>
<use href="#t" x="333.3" y="249.0"/>
<use href="#t" x="337.1" y="240.9"/>
<use href="#t" x="245.2" y="216.0"/>
<use href="#t" x="252.5" y="250.6"/>
<use href="#t" x="258.5" y="272.8"/>
<use href="#t" x="248.8" y="257.3"/>
<use href="#t" x="393.8" y="245.7"/>
<use href="#t" x="372.6" y="232.2"/>
<use href="#t" x="216.5" y="234.9"/>
<use href="#t" x="282.1" y="231.2"/>
<use href="#t" x="263.3" y="267.0"/>
<use href="#t" x="311.5" y="223.6"/>
<use href="#t" x="244.4" y="284.8"/>
<use href="#t" x="274.2" y="254.0"/>
<use href="#t" x="282.2" y="191.3"/>
<use href="#t" x="320.6" y="218.0"/>
<use href="#t" x="394.4" y="219.4"/>
<use href="#t" x="420.8" y="222.2"/>
<use href="#t" x="233.2" y="262.0"/>
<use href="#t" x="300.3" y="227.9"/>
<use href="#t" x="381.4" y="234.3"/>
<use href="#c" x="283.5" y="267.0"/>
<use href="#t" x="354.5" y="239.3"/>
<use href="#t" x="358.7" y="209.4"/>
<use href="#t" x="227.1" y="253.8"/>
<use href="#t" x="315.2" y="216.3"/>
<use href="#t" x="226.6" y="237.6"/>
<use href="#t" x="226.8" y="215.7"/>
<use href="#t" x="323.9" y="254.3"/>
<use href="#t" x="329.9" y="204.8"/>
<use href="#t" x="390.9" y="248.0"/>
<use href="#t" x="280.9" y="233.2"/>
<use href="#c" x="389.0" y="257.3"/>
<use href="#t" x="298.8" y="278.5"/>
<use href="#c" x="407.1" y="219.5"/>
<use href="#t" x="342.3" y="192.1"/>
<use href="#t" x="264.0" y="211.9"/>
<use href="#t" x="298.9" y="278.5"/>
<use href="#t" x="325.3" y="253.7"/>
<use href="#t" x="228.9" y="267.0"/>
<use href="#c" x="380.5" y="234.1"/>
<use href="#t" x="288.5" y="205.1"/>
<use href="#t" x="420.2" y="223.1"/>
<use href="#t" x="244.5" y="220.5"/>
<use href="#t" x="350.3" y="227.9"/>
<use href="#t" x="314.6" y="272.8"/>
<use href="#t" x="365.5" y="221.3"/>
<use href="#t" x="308.8" y="224.2"/>
<use href="#c" x="246.4" y="231.8"/>
<use href="#t" x="325.3" y="252.4"/>
<use href="#t" x="224.6" y="272.8"/>
<use href="#t" x="387.4" y="231.7"/>
<use href="#t" x="292.2" y="240.8"/>
<use href="#t" x="247.2" y="284.8"/>
<use href="#t" x="239.8" y="236.5"/>
<use href="#t" x="298.8" y="240.1"/>
<use href="#t" x="321.9" y="204.3"/>
<use href="#t" x="267.3" y="267.0"/>
<use href="#t" x="330.2" y="257.3"/>
<use href="#t" x="310.5" y="208.4"/>
<use href="#t" x="303.9" y="223.6"/>
<use href="#t" x="359.5" y="272.8"/>
<use href="#t" x="315.9" y="232.2"/>
<use href="#t" x="376.4" y="278.5"/>
<use href="#t" x="237.0" y="227.9"/>
<use href="#t" x="291.2" y="262.0"/>
<use href="#t" x="303.9" y="249.0"/>
<use href="#t" x="282.1" y="284.8"/>
<use href="#c" x="394.0" y="235.9"/>
<use href="#t" x="265.9" y="267.0"/>
<use href="#t" x="243.3" y="257.3"/>
<use href="#t" x="271.7" y="251.8"/>
<use href="#t" x="225.2" y="262.0"/>
<use href="#t" x="381.6" y="215.3"/>
<use href="#t" x="365.9" y="223.2"/>
<use href="#t" x="288.2" y="239.8"/>
<use href="#t" x="223.9" y="242.5"/>
<use href="#t" x="347.5" y="278.5"/>
<use href="#c" x="373.3" y="211.9"/>
<use href="#t" x="299.0" y="272.8"/>
<use href="#t" x="231.0" y="242.1"/>
<use href="#c" x="327.4" y="229.2"/>
<use href="#t" x="333.3" y="267.0"/>
<use href="#c" x="224.9" y="236.3"/>
<use href="#t" x="230.7" y="204.9"/>
<use href="#t" x="227.3" y="278.5"/>
<use href="#t" x="254.4" y="207.2"/>
<use href="#t" x="417.9" y="228.2"/>
<use href="#t" x="358.7" y="250.6"/>
<use href="#t" x="260.6" y="239.3"/>
<use href="#t" x="298.2" y="212.3"/>
<use href="#t" x="265.6" y="211.4"/>
<use href="#t" x="215.2" y="278.5"/>
<use href="#t" x="313.9" y="267.0"/>
<use href="#t" x="292.3" y="284.8"/>
<use href="#t" x="339.4" y="202.6"/>
<use href="#t" x="347.9" y="278.5"/>
<use href="#t" x="256.2" y="254.2"/>
<use href="#t" x="304.2" y="267.0"/>
<use href="#c" x="348.3" y="262.0"/>
<use href="#t" x="295.3" y="223.9"/>
<use href="#t" x="369.7" y="257.3"/>
<use href="#t" x="329.4" y="241.6"/>
<use href="#t" x="251.8" y="272.8"/>
<use href="#t" x="258.2" y="278.5"/>
<use href="#t" x="268.7" y="223.2"/>
<use href="#t" x="245.0" y="219.2"/>
<use href="#t" x="231.5" y="267.0"/>
<use href="#t" x="395.1" y="218.2"/>
<use href="#t" x="266.4" y="210.5"/>
<use href="#t" x="362.5" y="249.9"/>
<use href="#t" x="253.1" y="212.9"/>
<use href="#c" x="224.4" y="284.8"/>
<use href="#t" x="362.8" y="278.5"/>
<use href="#t" x="324.7" y="278.5"/>
<use href="#t" x="322.4" y="210.3"/>
<use href="#t" x="240.1" y="267.0"/>
<use href="#t" x="378.9" y="257.3"/>
<use href="#t" x="219.1" y="218.8"/>
<use href="#t" x="304.0" y="272.8"/>
<use href="#t" x="220.9" y="257.3"/>
<use href="#t" x="253.6" y="262.0"/>
<use href="#t" x="300.2" y="278.5"/>
<use href="#c" x="212.9" y="233.7"/>
<use href="#t" x="308.5" y="228.6"/>
<use href="#t" x="292.6" y="284.8"/>
<use href="#t" x="333.4" y="206.8"/>
<use href="#t" x="311.0" y="226.5"/>
<use href="#t" x="314.3" y="217.5"/>
<use href="#t" x="294.8" y="284.8"/>
<use href="#t" x="256.8" y="257.3"/>
<use href="#t" x="323.0" y="224.1"/>
<use href="#t" x="290.4" y="189.8"/>
<use href="#c" x="383.9" y="252.0"/>
<use href="#t" x="351.9" y="211.7"/>
<use href="#t" x="331.2" y="224.5"/>
<use href="#t" x="374.7" y="254.2"/>
<use href="#t" x="307.8" y="257.3"/>
<use href="#t" x="270.6" y="284.8"/>
<use href="#t" x="248.4" y="267.0"/>
<use href="#t" x="337.9" y="217.8"/>
<use href="#t" x="253.3" y="241.7"/>
<use href="#t" x="276.7" y="278.5"/>
<use href="#t" x="326.8" y="272.8"/>
<use href="#t" x="288.7" y="245.6"/>
<use href="#t" x="226.6" y="215.0"/>
<use href="#t" x="332.0" y="192.3"/>
<use href="#t" x="314.7" y="194.9"/>
<use href="#t" x="386.2" y="205.7"/>
<use href="#t" x="377.5" y="257.3"/>
<use href="#t" x="412.3" y="216.3"/>
<use href="#t" x="260.1" y="208.5"/>
<use href="#t" x="226.9" y="284.8"/>
<use href="#t" x="252.2" y="262.0"/>
<use href="#t" x="223.8" y="272.8"/>
<use href="#t" x="377.1" y="235.5"/>
<use href="#t" x="401.2" y="228.3"/>
<use href="#t" x="381.1" y="267.0"/>
<use href="#t" x="320.5" y="267.0"/>
<use href="#t" x="285.9" y="213.7"/>
<use href="#t" x="261.6" y="284.8"/>
<use href="#t" x="308.4" y="224.6"/>
<use href="#t" x="219.3" y="239.9"/>
<use href="#t" x="231.9" y="231.2"/>
<use href="#t" x="308.6" y="224.9"/>
<use href="#c" x="405.5" y="224.1"/>
<use href="#t" x="345.2" y="267.0"/>
<use href="#t" x="350.8" y="215.6"/>
<use href="#t" x="262.9" y="232.9"/>
<use href="#t" x="305.6" y="228.5"/>
<use href="#c" x="383.8" y="267.0"/>
<use href="#t" x="292.9" y="249.2"/>
<use href="#t" x="332.6" y="233.0"/>
<use href="#t" x="292.6" y="221.0"/>
<use href="#t" x="323.1" y="230.4"/>
<use href="#t" x="269.4" y="238.8"/>
<use href="#t" x="379.1" y="232.3"/>
<use href="#t" x="352.5" y="262.0"/>
<use href="#t" x="210.8" y="246.3"/>
<use href="#t" x="260.9" y="232.8"/>
<use href="#t" x="302.0" y="267.0"/>
<use href="#t" x="385.4" y="251.7"/>
<use href="#t" x="287.7" y="247.4"/>
<use href="#c" x="249.4" y="284.8"/>
<use href="#t" x="364.6" y="214.8"/>
<use href="#t" x="361.2" y="214.4"/>
<use href="#t" x="277.6" y="272.8"/>
<use href="#t" x="376.7" y="216.5"/>
<use href="#t" x="380.0" y="246.0"/>
<use href="#c" x="246.5" y="236.1"/>
<use href="#t" x="256.1" y="262.0"/>
<use href="#t" x="345.2" y="232.5"/>
<use href="#t" x="352.9" y="202.8"/>
<use href="#t" x="336.1" y="267.0"/>
<use href="#t" x="268.3" y="220.0"/>
<use href="#t" x="277.2" y="267.0"/>
<use href="#t" x="235.8" y="267.0"/>
<use href="#t" x="254.4" y="241.5"/>
<use href="#t" x="372.0" y="262.0"/>
<use href="#t" x="241.8" y="230.9"/>
<use href="#t" x="331.5" y="232.9"/>
<use href="#t" x="319.1" y="272.8"/>
<use href="#t" x="276.1" y="294.3"/>
<use href="#t" x="307.2" y="218.3"/>
<use href="#c" x="404.0" y="253.2"/>
<use href="#t" x="391.9" y="220.9"/>
<use href="#t" x="352.0" y="201.1"/>
<use href="#t" x="236.2" y="278.5"/>
<use href="#t" x="246.3" y="272.8"/>
<use href="#t" x="415.0" y="219.3"/>
<use href="#t" x="421.0" y="220.1"/>
<use href="#t" x="377.7" y="272.8"/>
<use href="#t" x="379.9" y="267.0"/>
<use href="#t" x="356.6" y="228.4"/>
<use href="#t" x="384.6" y="236.1"/>
<use href="#c" x="266.1" y="245.3"/>
<use href="#t" x="354.8" y="230.3"/>
<use href="#t" x="361.2" y="267.0"/>
<use href="#t" x="335.4" y="278.5"/>
<use href="#t" x="226.0" y="228.8"/>
<use href="#t" x="359.1" y="238.8"/>
<use href="#t" x="229.3" y="241.2"/>
<use href="#t" x="226.0" y="284.8"/>
<use href="#t" x="257.8" y="207.0"/>
<use href="#t" x="347.8" y="248.4"/>
<use href="#t" x="315.7" y="241.2"/>
<use href="#t" x="374.0" y="214.8"/>
<use href="#t" x="243.6" y="246.5"/>
<use href="#t" x="365.8" y="272.8"/>
<use href="#t" x="379.0" y="241.6"/>
<use href="#t" x="334.0" y="238.9"/>
<use href="#t" x="330.1" y="193.2"/>
<use href="#t" x="294.4" y="231.2"/>
<use href="#t" x="280.4" y="226.0"/>
<use href="#t" x="300.9" y="251.2"/>
<use href="#t" x="359.8" y="278.5"/>
<use href="#t" x="286.4" y="206.3"/>
<use href="#t" x="303.4" y="195.2"/>
<use href="#t" x="352.1" y="236.3"/>
<use href="#t" x="333.9" y="229.7"/>
<use href="#t" x="249.0" y="219.9"/>
<use href="#t" x="271.6" y="232.1"/>
<use href="#t" x="237.9" y="267.0"/>
<use href="#t" x="338.0" y="190.9"/>
<use href="#t" x="342.1" y="257.3"/>
<use href="#t" x="235.4" y="215.4"/>
<use href="#c" x="407.6" y="241.6"/>
<use href="#t" x="333.3" y="211.5"/>
<use href="#t" x="231.8" y="209.8"/>
<use href="#t" x="288.2" y="272.8"/>
<use href="#t" x="307.1" y="226.7"/>
<use href="#t" x="408.2" y="230.3"/>
<use href="#t" x="355.9" y="224.8"/>
<use href="#t" x="226.9" y="284.8"/>
<use href="#t" x="359.9" y="234.7"/>
<use href="#t" x="243.8" y="199.2"/>
<use href="#c" x="355.8" y="245.1"/>
<use href="#c" x="362.7" y="231.3"/>
<use href="#t" x="256.3" y="203.5"/>
<use href="#t" x="324.8" y="217.9"/>
<use href="#t" x="263.7" y="212.1"/>
<use href="#t" x="319.7" y="278.5"/>
<use href="#t" x="296.4" y="207.3"/>
<use href="#c" x="372.8" y="219.8"/>
<use href="#t" x="222.7" y="257.3"/>
<use href="#c" x="404.8" y="214.2"/>
<use href="#t" x="241.9" y="278.5"/>
<use href="#t" x="346.7" y="262.0"/>
<use href="#t" x="205.2" y="253.7"/>
<use href="#t" x="239.1" y="231.6"/>
<use href="#t" x="253.5" y="197.6"/>
<use href="#t" x="350.1" y="241.0"/>
<use href="#t" x="252.1" y="241.4"/>
<use href="#t" x="325.7" y="267.0"/>
<use href="#t" x="337.1" y="272.8"/>
<use href="#t" x="264.5" y="284.8"/>
<use href="#t" x="220.6" y="262.0"/>
<use href="#t" x="291.4" y="196.5"/>
<use href="#t" x="290.0" y="192.9"/>
<use href="#t" x="325.1" y="246.2"/>
<use href="#t" x="375.6" y="244.1"/>
<use href="#t" x="330.1" y="191.7"/>
<use href="#t" x="218.0" y="284.8"/>
<use href="#t" x="291.2" y="244.4"/>
<use href="#t" x="361.6" y="278.5"/>
<use href="#c" x="402.9" y="216.8"/>
<use href="#t" x="374.7" y="262.0"/>
<use href="#t" x="276.0" y="196.3"/>
<use href="#t" x="303.7" y="278.5"/>
<use href="#t" x="270.8" y="241.3"/>
<use href="#t" x="403.3" y="221.3"/>
<use href="#t" x="290.3" y="284.8"/>
<use href="#t" x="326.0" y="222.4"/>
<use href="#t" x="325.7" y="244.6"/>
<use href="#t" x="346.2" y="278.5"/>
<use href="#t" x="250.9" y="272.8"/>
<use href="#t" x="320.4" y="272.8"/>
<use href="#t" x="288.9" y="237.0"/>
<use href="#t" x="266.8" y="267.0"/>
<use href="#t" x="383.4" y="222.6"/>
<use href="#t" x="356.6" y="233.5"/>
<use href="#t" x="385.0" y="243.3"/>
<use href="#t" x="274.7" y="267.0"/>
<use href="#t" x="329.5" y="217.3"/>
<use href="#t" x="392.8" y="247.0"/>
<use href="#t" x="267.8" y="252.5"/>
<use href="#c" x="247.3" y="204.8"/>
<use href="#t" x="265.9" y="262.0"/>
<use href="#t" x="336.0" y="214.6"/>
<use href="#t" x="357.6" y="267.0"/>
<use href="#c" x="304.5" y="212.8"/>
<use href="#t" x="305.0" y="254.2"/>
<use href="#c" x="387.6" y="238.2"/>
<use href="#t" x="259.0" y="267.0"/>
<use href="#t" x="277.4" y="251.9"/>
<use href="#t" x="394.1" y="219.4"/>
<use href="#t" x="272.7" y="215.3"/>
<use href="#t" x="209.9" y="245.0"/>
<use href="#t" x="280.1" y="249.4"/>
<use href="#t" x="332.3" y="206.6"/>
<use href="#t" x="211.9" y="262.0"/>
<use href="#t" x="383.7" y="234.5"/>
<use href="#t" x="259.9" y="242.0"/>
<use href="#t" x="367.3" y="262.0"/>
<use href="#t" x="291.5" y="247.0"/>
<use href="#c" x="242.0" y="284.8"/>
<use href="#t" x="321.7" y="249.0"/>
<use href="#c" x="412.6" y="232.1"/>
<use href="#t" x="292.1" y="251.1"/>
<use href="#t" x="226.1" y="209.0"/>
<use href="#t" x="251.0" y="250.7"/>
<use href="#t" x="307.1" y="197.3"/>
<use href="#t" x="360.3" y="217.6"/>
<use href="#t" x="371.1" y="262.0"/>
<use href="#t" x="225.3" y="253.7"/>
<use href="#t" x="306.5" y="236.2"/>
<use href="#t" x="338.8" y="230.0"/>
<use href="#t" x="304.4" y="245.9"/>
<use href="#t" x="247.6" y="257.3"/>
<use href="#t" x="253.5" y="262.0"/>
<use href="#t" x="267.3" y="236.7"/>
<use href="#t" x="344.3" y="202.3"/>
<use href="#t" x="341.3" y="244.9"/>
<use href="#t" x="270.7" y="284.8"/>
<use href="#t" x="287.2" y="242.7"/>
<use href="#t" x="353.8" y="257.3"/>
<use href="#c" x="258.0" y="294.3"/>
<use href="#t" x="275.4" y="220.7"/>
<use href="#t" x="366.3" y="278.5"/>
<use href="#t" x="216.9" y="284.8"/>
<use href="#t" x="316.8" y="206.4"/>
<use href="#c" x="223.4" y="217.7"/>
<use href="#t" x="384.2" y="249.8"/>
<use href="#t" x="214.4" y="272.8"/>
<use href="#t" x="271.6" y="219.8"/>
<use href="#t" x="317.8" y="272.8"/>
<use href="#t" x="292.6" y="272.8"/>
<use href="#t" x="404.5" y="215.8"/>
<use href="#t" x="369.0" y="248.8"/>
<use href="#t" x="268.5" y="192.5"/>
<use href="#t" x="367.6" y="254.2"/>
<use href="#t" x="365.4" y="278.5"/>
<use href="#t" x="248.7" y="247.7"/>
<use href="#t" x="257.3" y="240.8"/>
<use href="#t" x="266.3" y="244.7"/>
<use href="#t" x="333.1" y="272.8"/>
<use href="#t" x="350.3" y="193.4"/>
<use href="#t" x="252.5" y="217.6"/>
<use href="#c" x="279.9" y="217.6"/>
<use href="#t" x="302.9" y="202.7"/>
<use href="#t" x="327.5" y="191.7"/>
<use href="#t" x="340.9" y="262.0"/>
<use href="#c" x="341.4" y="224.4"/>
<use href="#t" x="235.6" y="220.4"/>
<use href="#t" x="330.5" y="262.0"/>
<use href="#t" x="285.1" y="189.6"/>
<use href="#t" x="346.1" y="257.3"/>
<use href="#t" x="321.2" y="198.2"/>
<use href="#t" x="246.7" y="251.1"/>
<use href="#t" x="251.7" y="250.8"/>
<use href="#t" x="294.9" y="244.7"/>
<use href="#t" x="364.2" y="257.3"/>
<use href="#t" x="329.2" y="232.1"/>
<use href="#t" x="310.5" y="230.5"/>
<use href="#t" x="320.7" y="215.6"/>
<use href="#t" x="299.8" y="220.6"/>
<use href="#t" x="320.1" y="225.7"/>
<use href="#t" x="261.4" y="221.1"/>
<use href="#t" x="370.2" y="238.8"/>
<use href="#t" x="282.1" y="227.0"/>
<use href="#c" x="390.5" y="218.9"/>
<use href="#t" x="210.7" y="272.8"/>
<use href="#t" x="346.7" y="212.5"/>
<use href="#t" x="282.0" y="211.5"/>
<use href="#t" x="247.5" y="210.9"/>
<use href="#t" x="379.8" y="267.0"/>
<use href="#t" x="222.7" y="284.8"/>
<use href="#t" x="387.1" y="236.1"/>
<use href="#t" x="307.8" y="209.3"/>
<use href="#t" x="401.4" y="248.9"/>
<use href="#t" x="230.6" y="237.2"/>
<use href="#t" x="365.8" y="240.8"/>
<use href="#t" x="332.5" y="234.7"/>
<use href="#t" x="228.3" y="267.0"/>
<use href="#t" x="267.9" y="278.5"/>
<use href="#t" x="286.7" y="233.4"/>
<use href="#t" x="301.4" y="190.1"/>
<use href="#t" x="317.2" y="272.8"/>
<use href="#t" x="218.1" y="249.7"/>
<use href="#t" x="272.3" y="278.5"/>
<use href="#t" x="257.2" y="257.3"/>
<use href="#t" x="257.4" y="284.8"/>
<use href="#t" x="339.8" y="272.8"/>
<use href="#t" x="382.9" y="245.5"/>
<use href="#t" x="297.5" y="249.3"/>
<use href="#t" x="345.7" y="199.7"/>
<use href="#t" x="270.8" y="236.3"/>
<use href="#t" x="336.4" y="278.5"/>
<use href="#t" x="343.6" y="213.2"/>
<use href="#t" x="315.4" y="243.7"/>
<use href="#t" x="375.6" y="239.6"/>
<use href="#t" x="254.9" y="284.8"/>
<use href="#t" x="355.3" y="219.2"/>
<use href="#t" x="380.7" y="262.0"/>
<use href="#t" x="305.7" y="241.8"/>
<use href="#t" x="342.2" y="240.8"/>
<use href="#c" x="349.0" y="239.7"/>
<use href="#t" x="323.6" y="197.6"/>
<use href="#c" x="386.2" y="219.8"/>
<use href="#t" x="210.0" y="246.8"/>
<use href="#t" x="330.9" y="199.8"/>
<use href="#c" x="230.2" y="235.1"/>
<use href="#t" x="350.0" y="257.3"/>
<use href="#t" x="214.2" y="267.0"/>
<use href="#t" x="311.2" y="217.9"/>
<use href="#t" x="362.5" y="234.7"/>
<use href="#t" x="294.2" y="267.0"/>
<use href="#t" x="232.3" y="237.6"/>
<use href="#t" x="258.0" y="272.8"/>
<use href="#t" x="215.3" y="237.9"/>
<use href="#t" x="341.5" y="237.4"/>
<use href="#t" x="318.1" y="199.9"/>
<use href="#t" x="225.4" y="215.8"/>
<use href="#t" x="329.1" y="241.0"/>
<use href="#t" x="311.2" y="225.1"/>
<use href="#t" x="232.3" y="284.8"/>
<use href="#t" x="384.9" y="257.3"/>
<use href="#t" x="323.0" y="272.8"/>
<use href="#t" x="255.1" y="228.5"/>
<use href="#t" x="310.6" y="245.3"/>
<use href="#t" x="321.2" y="239.3"/>
<use href="#t" x="247.6" y="262.0"/>
<use href="#t" x="260.3" y="241.5"/>
<use href="#t" x="295.4" y="253.2"/>
<use href="#t" x="407.1" y="222.6"/>
<use href="#t" x="209.5" y="247.3"/>
<use href="#t" x="232.2" y="272.8"/>
<use href="#t" x="364.1" y="245.6"/>
<use href="#t" x="385.3" y="257.3"/>
<use href="#t" x="237.1" y="219.4"/>
<use href="#t" x="279.6" y="225.6"/>
<use href="#t" x="320.8" y="257.3"/>
<use href="#t" x="319.0" y="237.0"/>
<use href="#t" x="229.5" y="240.5"/>
<use href="#c" x="227.5" y="284.8"/>
<use href="#t" x="348.3" y="195.3"/>
<use href="#t" x="294.5" y="272.8"/>
<use href="#t" x="293.7" y="227.4"/>
<use href="#t" x="226.3" y="245.7"/>
<use href="#t" x="297.2" y="216.8"/>
<use href="#t" x="261.3" y="262.0"/>
<use href="#t" x="362.1" y="213.5"/>
<use href="#t" x="326.5" y="267.0"/>
<use href="#t" x="296.3" y="187.8"/>
<use href="#t" x="351.2" y="219.7"/>
<use href="#t" x="250.2" y="207.8"/>
<use href="#t" x="229.1" y="262.0"/>
<use href="#t" x="254.3" y="278.5"/>
<use href="#t" x="296.2" y="253.2"/>
<use href="#t" x="418.3" y="223.8"/>
<use href="#t" x="215.9" y="272.8"/>
<use href="#t" x="283.1" y="223.6"/>
<use href="#t" x="254.6" y="203.3"/>
<use href="#t" x="357.1" y="240.8"/>
<use href="#t" x="341.2" y="231.7"/>
<use href="#t" x="229.4" y="245.7"/>
<use href="#t" x="223.8" y="284.8"/>
<use href="#t" x="401.8" y="213.8"/>
<use href="#t" x="260.3" y="278.5"/>
<use href="#t" x="347.9" y="246.5"/>
<use href="#t" x="213.9" y="238.0"/>
<use href="#t" x="267.1" y="278.5"/>
<use href="#c" x="362.2" y="239.3"/>
<use href="#t" x="326.5" y="229.7"/>
<use href="#t" x="276.9" y="212.6"/>
<use href="#t" x="337.3" y="246.2"/>
<use href="#t" x="233.7" y="257.3"/>
<use href="#t" x="307.3" y="204.2"/>
<use href="#t" x="212.7" y="249.8"/>
<use href="#t" x="340.7" y="267.0"/>
<use href="#t" x="264.7" y="262.0"/>
<use href="#t" x="336.6" y="209.8"/>
<use href="#t" x="389.0" y="262.0"/>
<use href="#t" x="384.3" y="234.0"/>
<use href="#t" x="382.8" y="257.3"/>
<use href="#t" x="226.6" y="272.8"/>
<use href="#t" x="291.9" y="251.7"/>
<use href="#t" x="304.0" y="228.6"/>
<use href="#t" x="221.3" y="262.0"/>
<use href="#t" x="374.6" y="245.0"/>
<use href="#t" x="371.8" y="278.5"/>
<use href="#t" x="316.4" y="267.0"/>
<use href="#t" x="266.3" y="284.8"/>
<use href="#t" x="294.0" y="205.0"/>
<use href="#t" x="361.7" y="222.3"/>
<use href="#t" x="263.0" y="245.4"/>
<use href="#t" x="231.1" y="284.8"/>
<use href="#t" x="236.1" y="215.4"/>
<use href="#t" x="299.9" y="206.2"/>
<use href="#t" x="221.6" y="242.2"/>
<use href="#t" x="215.9" y="245.7"/>
<use href="#t" x="370.8" y="254.2"/>
<use href="#t" x="338.3" y="199.9"/>
<use href="#c" x="361.1" y="278.5"/>
<use href="#t" x="293.4" y="212.4"/>
<use href="#t" x="400.9" y="247.1"/>
<use href="#t" x="283.5" y="236.4"/>
<use href="#t" x="233.0" y="216.2"/>
<use href="#t" x="276.7" y="267.0"/>
<use href="#t" x="319.3" y="198.3"/>
<use href="#t" x="246.9" y="201.6"/>
<use href="#t" x="271.6" y="272.8"/>
<use href="#t" x="314.8" y="257.3"/>
<use href="#t" x="359.3" y="227.9"/>
<use href="#t" x="332.9" y="194.6"/>
<use href="#t" x="323.7" y="267.0"/>
<use href="#t" x="307.6" y="236.7"/>
<use href="#t" x="212.2" y="240.9"/>
<use href="#t" x="334.1" y="209.5"/>
<use href="#t" x="249.7" y="284.8"/>
<use href="#t" x="311.8" y="262.0"/>
<use href="#t" x="384.2" y="262.0"/>
<use href="#t" x="353.2" y="227.1"/>
<use href="#t" x="314.8" y="204.0"/>
<use href="#t" x="357.5" y="240.9"/>
<use href="#t" x="282.7" y="233.4"/>
<use href="#t" x="323.5" y="262.0"/>
<use href="#t" x="270.0" y="243.0"/>
<use href="#c" x="358.0" y="219.6"/>
<use href="#t" x="271.7" y="267.0"/>
<use href="#t" x="226.8" y="207.2"/>
<use href="#t" x="226.6" y="284.8"/>
<use href="#t" x="371.8" y="278.5"/>
<use href="#t" x="269.5" y="257.3"/>
<use href="#t" x="365.6" y="240.4"/>
<use href="#t" x="220.3" y="251.9"/>
<use href="#c" x="378.3" y="262.0"/>
<use href="#t" x="307.9" y="210.7"/>
<use href="#t" x="288.7" y="234.1"/>
<use href="#t" x="259.9" y="200.1"/>
<use href="#t" x="280.0" y="294.3"/>
<use href="#c" x="253.9" y="240.0"/>
<use href="#t" x="254.9" y="236.3"/>
<use href="#t" x="265.8" y="278.5"/>
<use href="#t" x="217.3" y="257.3"/>
<use href="#t" x="352.2" y="262.0"/>
<use href="#t" x="307.5" y="203.6"/>
<use href="#t" x="343.8" y="262.0"/>
<use href="#t" x="316.5" y="251.0"/>
<use href="#t" x="373.3" y="243.8"/>
<use href="#c" x="316.8" y="203.8"/>
<use href="#t" x="244.4" y="240.7"/>
<use href="#t" x="331.7" y="234.6"/>
<use href="#c" x="380.1" y="262.0"/>
<use href="#t" x="256.1" y="216.3"/>
<use href="#t" x="310.9" y="213.9"/>
<use href="#t" x="368.2" y="223.5"/>
<use href="#t" x="421.3" y="224.0"/>
<use href="#c" x="384.7" y="217.1"/>
<use href="#t" x="385.3" y="229.1"/>
<use href="#t" x="304.5" y="267.0"/>
<use href="#t" x="275.3" y="199.2"/>
<use href="#t" x="226.1" y="257.3"/>
<use href="#t" x="253.3" y="262.0"/>
<use href="#c" x="402.3" y="213.8"/>
<use href="#c" x="349.2" y="245.7"/>
<use href="#t" x="261.9" y="230.0"/>
<use href="#t" x="229.2" y="251.1"/>
<use href="#t" x="204.3" y="246.1"/>
<use href="#t" x="236.1" y="294.3"/>
<use href="#t" x="285.0" y="278.5"/>
<use href="#t" x="381.2" y="245.2"/>
<use href="#t" x="365.7" y="240.5"/>
<use href="#t" x="241.9" y="212.0"/>
<use href="#t" x="255.7" y="272.8"/>
<use href="#t" x="356.4" y="201.7"/>
<use href="#t" x="406.8" y="222.3"/>
<use href="#t" x="316.7" y="272.8"/>
<use href="#t" x="274.1" y="226.4"/>
<use href="#t" x="268.6" y="272.8"/>
<use href="#t" x="316.7" y="272.8"/>
<use href="#t" x="286.4" y="198.0"/>
<use href="#t" x="338.8" y="257.3"/>
<use href="#t" x="221.7" y="248.5"/>
<use href="#t" x="329.5" y="272.8"/>
<use href="#t" x="366.4" y="262.0"/>
<use href="#t" x="309.9" y="272.8"/>
<use href="#t" x="212.5" y="229.5"/>
<use href="#c" x="416.6" y="219.9"/>
<use href="#t" x="226.2" y="278.5"/>
<use href="#t" x="265.7" y="242.9"/>
<use href="#t" x="290.5" y="188.6"/>
<use href="#t" x="322.3" y="221.9"/>
<use href="#t" x="361.9" y="252.7"/>
<use href="#t" x="298.0" y="243.0"/>
<use href="#t" x="372.8" y="278.5"/>
<use href="#t" x="285.0" y="267.0"/>
<use href="#t" x="236.3" y="221.1"/>
<use href="#t" x="348.0" y="272.8"/>
<use href="#t" x="214.7" y="242.5"/>
<use href="#t" x="293.7" y="235.6"/>
<use href="#t" x="407.3" y="222.4"/>
<use href="#t" x="362.9" y="233.2"/>
<use href="#t" x="328.1" y="216.1"/>
<use href="#t" x="205.1" y="257.3"/>
<use href="#t" x="294.1" y="245.0"/>
<use href="#t" x="241.6" y="278.5"/>
<use href="#c" x="359.0" y="245.8"/>
<use href="#t" x="248.9" y="204.2"/>
<use href="#t" x="332.4" y="238.0"/>
<use href="#t" x="311.1" y="239.6"/>
<use href="#t" x="222.7" y="205.2"/>
<use href="#t" x="290.8" y="239.1"/>
<use href="#c" x="372.7" y="242.0"/>
<use href="#t" x="257.9" y="278.5"/>
<use href="#t" x="268.1" y="284.8"/>
<use href="#c" x="368.5" y="249.1"/>
<use href="#t" x="373.0" y="236.2"/>
<use href="#t" x="240.2" y="257.3"/>
<use href="#t" x="317.3" y="272.8"/>
<use href="#t" x="269.3" y="262.0"/>
<use href="#t" x="371.3" y="231.1"/>
<use href="#t" x="371.0" y="251.7"/>
<use href="#t" x="213.6" y="272.8"/>
<use href="#t" x="224.4" y="247.0"/>
<use href="#t" x="256.9" y="284.8"/>
<use href="#t" x="371.6" y="278.5"/>
<use href="#t" x="301.5" y="231.1"/>
<use href="#t" x="362.9" y="204.0"/>
<use href="#t" x="378.2" y="218.3"/>
<use href="#t" x="364.7" y="217.2"/>
<use href="#t" x="297.5" y="211.4"/>
<use href="#t" x="319.7" y="243.1"/>
<use href="#t" x="209.2" y="257.3"/>
<use href="#t" x="359.1" y="226.7"/>
<use href="#t" x="325.9" y="242.5"/>
<use href="#t" x="349.8" y="240.7"/>
<use href="#t" x="393.4" y="257.3"/>
<use href="#t" x="389.1" y="217.0"/>
<use href="#t" x="287.2" y="242.6"/>
<use href="#t" x="208.7" y="244.6"/>
<use href="#t" x="364.4" y="219.9"/>
<use href="#t" x="368.7" y="224.8"/>
<use href="#t" x="408.2" y="223.3"/>
<use href="#t" x="262.5" y="226.2"/>
<use href="#c" x="367.4" y="228.7"/>
<use href="#t" x="286.0" y="248.6"/>
<use href="#t" x="348.3" y="198.8"/>
<use href="#t" x="258.9" y="247.8"/>
<use href="#t" x="317.2" y="272.8"/>
<use href="#t" x="214.7" y="257.3"/>
<use href="#t" x="302.3" y="239.4"/>
<use href="#t" x="249.3" y="262.0"/>
<use href="#t" x="261.8" y="213.8"/>
<use href="#t" x="300.0" y="212.6"/>
<use href="#t" x="221.5" y="215.8"/>
<use href="#t" x="296.9" y="222.6"/>
<use href="#t" x="346.8" y="193.6"/>
<use href="#t" x="234.2" y="294.3"/>
<use href="#c" x="210.9" y="254.5"/>
<use href="#t" x="368.9" y="278.5"/>
<use href="#t" x="341.4" y="222.9"/>
<use href="#t" x="299.4" y="215.9"/>
<use href="#t" x="289.5" y="229.9"/>
<use href="#c" x="320.5" y="225.6"/>
<use href="#c" x="319.3" y="221.5"/>
<use href="#t" x="353.9" y="262.0"/>
<use href="#t" x="216.6" y="278.5"/>
<use href="#t" x="307.8" y="247.4"/>
<use href="#t" x="311.7" y="236.6"/>
<use href="#t" x="368.7" y="267.0"/>
<use href="#t" x="378.2" y="224.1"/>
<use href="#t" x="284.1" y="294.3"/>
<use href="#t" x="285.0" y="221.0"/>
<use href="#t" x="364.6" y="272.8"/>
<use href="#t" x="222.8" y="284.8"/>
<use href="#t" x="316.4" y="222.6"/>
<use href="#t" x="377.0" y="224.8"/>
<use href="#t" x="327.9" y="267.0"/>
<use href="#t" x="355.0" y="223.3"/>
<use href="#t" x="311.5" y="257.3"/>
<use href="#t" x="318.9" y="257.3"/>
<use href="#t" x="405.1" y="225.4"/>
<use href="#t" x="287.1" y="267.0"/>
<use href="#t" x="280.6" y="229.6"/>
<use href="#t" x="275.7" y="228.6"/>
<use href="#t" x="327.0" y="257.3"/>
<use href="#t" x="312.8" y="204.4"/>
<use href="#t" x="396.1" y="257.3"/>
<use href="#c" x="346.1" y="200.2"/>
<use href="#t" x="279.3" y="249.1"/>
<use href="#t" x="322.9" y="217.7"/>
<use href="#t" x="369.7" y="222.2"/>
<use href="#c" x="371.9" y="224.1"/>
<use href="#t" x="393.9" y="246.1"/>
<use href="#t" x="356.8" y="245.7"/>
<use href="#t" x="291.1" y="294.3"/>
<use href="#t" x="330.4" y="278.5"/>
<use href="#c" x="394.3" y="215.9"/>
<use href="#t" x="263.2" y="223.7"/>
<use href="#t" x="278.5" y="262.0"/>
<use href="#t" x="205.3" y="249.6"/>
<use href="#t" x="232.9" y="228.3"/>
<use href="#t" x="332.9" y="241.0"/>
<use href="#t" x="312.2" y="226.8"/>
<use href="#t" x="266.0" y="227.8"/>
<use href="#t" x="422.5" y="220.2"/>
<use href="#t" x="289.9" y="203.3"/>
<use href="#t" x="262.0" y="249.4"/>
<use href="#t" x="222.3" y="237.9"/>
<use href="#t" x="347.6" y="262.0"/>
<use href="#t" x="249.4" y="215.0"/>
<use href="#t" x="288.0" y="234.3"/>
<use href="#t" x="288.1" y="201.5"/>
<use href="#t" x="266.1" y="238.1"/>
<use href="#t" x="358.0" y="241.4"/>
<use href="#t" x="365.3" y="272.8"/>
<use href="#c" x="254.2" y="251.9"/>
<use href="#t" x="356.8" y="235.9"/>
<use href="#t" x="270.8" y="244.2"/>
<use href="#t" x="301.3" y="278.5"/>
<use href="#c" x="323.3" y="250.1"/>
<use href="#c" x="386.7" y="233.1"/>
<use href="#t" x="396.8" y="246.7"/>
<use href="#t" x="369.6" y="257.3"/>
<use href="#c" x="345.1" y="204.5"/>
<use href="#c" x="302.5" y="235.2"/>
<use href="#t" x="319.7" y="208.8"/>
<use href="#t" x="234.3" y="235.1"/>
<use href="#t" x="348.4" y="272.8"/>
<use href="#t" x="298.0" y="241.1"/>
<use href="#c" x="284.6" y="209.0"/>
<use href="#t" x="267.9" y="221.2"/>
<use href="#c" x="358.1" y="231.4"/>
<use href="#t" x="281.2" y="213.5"/>
<use href="#t" x="381.0" y="251.6"/>
<use href="#t" x="391.9" y="230.8"/>
<use href="#t" x="283.8" y="262.0"/>
<use href="#t" x="210.9" y="245.2"/>
<use href="#t" x="395.1" y="229.0"/>
<use href="#t" x="368.2" y="230.7"/>
<use href="#t" x="295.7" y="253.1"/>
<use href="#c" x="405.5" y="217.7"/>
<use href="#t" x="351.9" y="262.0"/>
<use href="#t" x="346.4" y="215.3"/>
<use href="#t" x="260.8" y="237.9"/>
<use href="#t" x="365.7" y="248.3"/>
<use href="#t" x="222.6" y="257.3"/>
<use href="#t" x="286.4" y="278.5"/>
<use href="#t" x="371.4" y="233.0"/>
<use href="#t" x="222.7" y="257.3"/>
<use href="#c" x="372.8" y="262.0"/>
<use href="#t" x="281.4" y="197.9"/>
<use href="#t" x="228.3" y="236.4"/>
<use href="#t" x="220.3" y="257.3"/>
<use href="#t" x="241.9" y="257.3"/>
<use href="#t" x="340.3" y="200.2"/>
<use href="#c" x="392.3" y="254.5"/>
<use href="#t" x="273.9" y="284.8"/>
<use href="#t" x="307.8" y="241.3"/>
<use href="#t" x="302.4" y="213.6"/>
<use href="#t" x="372.6" y="240.4"/>
<use href="#t" x="226.7" y="262.0"/>
<use href="#t" x="335.7" y="191.8"/>
<use href="#t" x="282.0" y="267.0"/>
<use href="#t" x="358.1" y="234.8"/>
<use href="#t" x="269.8" y="272.8"/>
<use href="#t" x="293.1" y="196.1"/>
<use href="#t" x="360.4" y="247.6"/>
<use href="#t" x="282.5" y="234.4"/>
<use href="#t" x="385.0" y="229.2"/>
<use href="#t" x="246.2" y="242.3"/>
<use href="#c" x="235.3" y="213.4"/>
<use href="#t" x="329.5" y="257.3"/>
<use href="#t" x="383.3" y="245.4"/>
<use href="#t" x="215.1" y="218.3"/>
<use href="#t" x="284.1" y="262.0"/>
<use href="#t" x="260.6" y="218.1"/>
<use href="#t" x="353.2" y="251.3"/>
<use href="#t" x="285.0" y="227.9"/>
<use href="#t" x="299.5" y="267.0"/>
<use href="#t" x="240.6" y="278.5"/>
<use href="#t" x="262.8" y="284.8"/>
<use href="#t" x="255.5" y="227.5"/>
<use href="#t" x="362.2" y="212.7"/>
<use href="#t" x="313.9" y="206.7"/>
<use href="#c" x="371.5" y="240.2"/>
<use href="#t" x="277.4" y="248.5"/>
<use href="#t" x="286.5" y="247.1"/>
<use href="#t" x="238.1" y="284.8"/>
<use href="#t" x="323.6" y="228.3"/>
<use href="#c" x="403.5" y="217.0"/>
<use href="#t" x="242.2" y="284.8"/>
<use href="#t" x="373.0" y="225.8"/>
<use href="#t" x="357.9" y="248.2"/>
<use href="#t" x="232.9" y="220.0"/>
<use href="#t" x="409.0" y="235.5"/>
<use href="#t" x="220.8" y="257.3"/>
<use href="#t" x="358.6" y="214.3"/>
<use href="#t" x="258.5" y="267.0"/>
<use href="#c" x="410.4" y="228.9"/>
<use href="#c" x="310.4" y="232.7"/>
<use href="#t" x="248.5" y="272.8"/>
<use href="#t" x="230.3" y="249.7"/>
<use href="#t" x="285.1" y="235.3"/>
<use href="#t" x="235.4" y="262.0"/>
<use href="#t" x="247.6" y="212.3"/>
<use href="#t" x="330.5" y="257.3"/>
<use href="#t" x="278.8" y="232.7"/>
<use href="#c" x="378.3" y="237.1"/>
<use href="#t" x="279.4" y="278.5"/>
<use href="#c" x="287.2" y="257.3"/>
<use href="#t" x="347.9" y="262.0"/>
<use href="#t" x="293.5" y="284.8"/>
<use href="#t" x="320.1" y="220.3"/>
<use href="#t" x="287.3" y="220.1"/>
<use href="#t" x="305.1" y="222.8"/>
<use href="#t" x="281.7" y="262.0"/>
<use href="#t" x="323.0" y="210.8"/>
<use href="#t" x="275.5" y="246.0"/>
<use href="#t" x="358.7" y="278.5"/>
<use href="#t" x="340.9" y="194.5"/>
<use href="#t" x="346.1" y="257.3"/>
<use href="#t" x="375.1" y="243.1"/>
<use href="#c" x="297.6" y="239.7"/>
<use href="#c" x="305.0" y="278.5"/>
<use href="#t" x="289.5" y="208.4"/>
<use href="#t" x="278.6" y="253.1"/>
<use href="#c" x="291.9" y="191.4"/>
<use href="#t" x="392.2" y="235.7"/>
<use href="#t" x="306.7" y="248.8"/>
<use href="#t" x="347.4" y="257.3"/>
<use href="#c" x="263.4" y="203.7"/>
<use href="#t" x="385.5" y="211.5"/>
<use href="#t" x="337.5" y="230.3"/>
<use href="#t" x="320.9" y="221.1"/>
<use href="#t" x="306.3" y="200.5"/>
<use href="#c" x="391.9" y="257.3"/>
<use href="#t" x="290.6" y="272.8"/>
<use href="#t" x="314.3" y="262.0"/>
<use href="#t" x="234.3" y="252.3"/>
<use href="#t" x="365.0" y="224.4"/>
<use href="#t" x="359.8" y="228.2"/>
<use href="#t" x="298.4" y="235.5"/>
<use href="#t" x="230.7" y="284.8"/>
<use href="#t" x="334.4" y="207.2"/>
<use href="#t" x="242.3" y="267.0"/>
<use href="#t" x="349.6" y="278.5"/>
<use href="#t" x="352.1" y="257.3"/>
<use href="#t" x="231.7" y="238.7"/>
<use href="#t" x="286.4" y="272.8"/>
<use href="#t" x="259.6" y="228.3"/>
<use href="#t" x="253.2" y="278.5"/>
<use href="#t" x="298.9" y="267.0"/>
<use href="#t" x="256.7" y="227.3"/>
<use href="#t" x="287.9" y="272.8"/>
<use href="#t" x="238.7" y="244.5"/>
<use href="#t" x="249.1" y="278.5"/>
<use href="#t" x="322.4" y="257.3"/>
<use href="#t" x="343.4" y="229.8"/>
<use href="#t" x="326.4" y="267.0"/>
<use href="#t" x="359.5" y="225.9"/>
<use href="#c" x="280.8" y="217.8"/>
<use href="#t" x="376.5" y="242.8"/>
<use href="#t" x="291.3" y="220.1"/>
<use href="#t" x="376.6" y="234.9"/>
<use href="#t" x="370.2" y="238.9"/>
<use href="#t" x="294.2" y="294.3"/>
<use href="#t" x="326.8" y="189.9"/>
<use href="#t" x="255.1" y="267.0"/>
<use href="#c" x="335.5" y="272.8"/>
<use href="#c" x="393.3" y="242.6"/>
<use href="#t" x="267.5" y="246.5"/>
<use href="#t" x="344.7" y="227.5"/>
<use href="#t" x="366.6" y="223.1"/>
<use href="#t" x="229.4" y="253.4"/>
<use href="#t" x="250.8" y="262.0"/>
<use href="#t" x="352.8" y="203.9"/>
<use href="#t" x="340.0" y="224.4"/>
<use href="#t" x="374.4" y="262.0"/>
<use href="#t" x="240.1" y="207.6"/>
<use href="#t" x="229.1" y="206.7"/>
<use href="#t" x="281.5" y="214.0"/>
<use href="#t" x="282.3" y="244.8"/>
<use href="#t" x="292.2" y="284.8"/>
<use href="#t" x="323.8" y="223.3"/>
<use href="#t" x="246.9" y="253.2"/>
<use href="#t" x="227.9" y="272.8"/>
<use href="#t" x="302.0" y="202.7"/>
<use href="#t" x="359.3" y="223.5"/>
<use href="#t" x="281.9" y="210.4"/>
<use href="#c" x="374.9" y="231.2"/>
<use href="#t" x="232.1" y="247.1"/>
<use href="#t" x="391.1" y="229.9"/>
<use href="#t" x="262.3" y="294.3"/>
<use href="#t" x="228.2" y="230.0"/>
<use href="#c" x="268.5" y="207.7"/>
<use href="#t" x="320.9" y="245.9"/>
<use href="#t" x="256.1" y="257.3"/>
<use href="#t" x="225.7" y="248.5"/>
<use href="#t" x="219.8" y="267.0"/>
<use href="#t" x="259.1" y="208.0"/>
<use href="#t" x="411.4" y="221.1"/>
<use href="#t" x="247.1" y="235.3"/>
<use href="#t" x="267.0" y="252.8"/>
<use href="#t" x="229.9" y="245.4"/>
<use href="#t" x="324.8" y="231.4"/>
<use href="#t" x="308.4" y="267.0"/>
<use href="#t" x="405.9" y="241.9"/>
<use href="#t" x="322.6" y="272.8"/>
<use href="#c" x="396.0" y="247.9"/>
<use href="#t" x="317.9" y="272.8"/>
<use href="#t" x="335.3" y="262.0"/>
<use href="#t" x="321.8" y="221.0"/>
<use href="#t" x="288.4" y="284.8"/>
<use href="#t" x="358.3" y="248.1"/>
<use href="#t" x="240.5" y="267.0"/>
<use href="#t" x="281.2" y="191.7"/>
<use href="#t" x="274.6" y="246.0"/>
<use href="#t" x="295.6" y="278.5"/>
<use href="#t" x="208.4" y="252.4"/>
<use href="#t" x="287.4" y="272.8"/>
<use href="#t" x="411.6" y="231.3"/>
<use href="#t" x="234.5" y="211.4"/>
<use href="#t" x="256.7" y="284.8"/>
<use href="#c" x="329.6" y="214.8"/>
<use href="#t" x="222.8" y="278.5"/>
<use href="#t" x="298.9" y="223.1"/>
<use href="#t" x="388.4" y="262.0"/>
<use href="#t" x="240.3" y="248.5"/>
<use href="#t" x="245.9" y="284.8"/>
<use href="#t" x="202.0" y="246.8"/>
<use href="#t" x="341.0" y="244.7"/>
<use href="#t" x="323.3" y="228.8"/>
<use href="#t" x="234.7" y="205.4"/>
<use href="#t" x="217.6" y="242.0"/>
<use href="#t" x="393.0" y="218.0"/>
<use href="#t" x="274.9" y="257.3"/>
<use href="#t" x="355.5" y="262.0"/>
<use href="#t" x="364.0" y="221.1"/>
<use href="#t" x="218.6" y="246.3"/>
<use href="#t" x="261.6" y="214.3"/>
<use href="#t" x="324.6" y="227.2"/>
<use href="#t" x="387.1" y="242.5"/>
<use href="#t" x="277.9" y="200.2"/>
<use href="#t" x="216.1" y="212.6"/>
<use href="#t" x="330.2" y="191.4"/>
<use href="#t" x="301.6" y="257.3"/>
<use href="#c" x="382.5" y="262.0"/>
<use href="#t" x="324.5" y="210.2"/>
<use href="#c" x="282.5" y="205.1"/>
<use href="#t" x="297.2" y="262.0"/>
<use href="#t" x="258.3" y="284.8"/>
<use href="#t" x="289.3" y="186.0"/>
<use href="#t" x="292.6" y="253.4"/>
<use href="#t" x="355.1" y="231.4"/>
<use href="#t" x="342.8" y="234.6"/>
<use href="#t" x="319.9" y="250.4"/>
<use href="#t" x="308.8" y="238.7"/>
<use href="#t" x="325.8" y="215.1"/>
<use href="#t" x="293.2" y="230.4"/>
<use href="#t" x="255.4" y="237.2"/>
<use href="#t" x="219.1" y="257.3"/>
<use href="#c" x="241.1" y="208.2"/>
<use href="#t" x="306.3" y="262.0"/>
<use href="#c" x="334.0" y="252.8"/>
<use href="#t" x="207.7" y="240.5"/>
<use href="#t" x="361.6" y="232.8"/>
<use href="#t" x="226.1" y="257.3"/>
<use href="#t" x="287.7" y="187.7"/>
<use href="#t" x="361.9" y="272.8"/>
<use href="#c" x="404.4" y="225.8"/>
<use href="#t" x="243.3" y="284.8"/>
<use href="#c" x="320.3" y="210.1"/>
<use href="#t" x="293.2" y="204.2"/>
<use href="#t" x="343.5" y="206.2"/>
<use href="#t" x="314.8" y="217.3"/>
<use href="#t" x="409.3" y="238.3"/>
<use href="#t" x="409.3" y="231.0"/>
<use href="#t" x="383.2" y="212.6"/>
<use href="#t" x="371.1" y="262.0"/>
<use href="#t" x="317.8" y="193.0"/>
<use href="#t" x="276.1" y="221.7"/>
<use href="#t" x="252.0" y="206.8"/>
<use href="#t" x="241.0" y="238.1"/>
<use href="#t" x="370.0" y="262.0"/>
<use href="#t" x="329.8" y="243.1"/>
<use href="#t" x="215.1" y="272.8"/>
<use href="#t" x="297.6" y="272.8"/>
<use href="#t" x="358.2" y="278.5"/>
<use href="#c" x="378.5" y="267.0"/>
<use href="#t" x="275.0" y="224.2"/>
<use href="#t" x="386.1" y="257.3"/>
<use href="#t" x="337.6" y="272.8"/>
<use href="#t" x="334.4" y="248.0"/>
<use href="#t" x="267.3" y="278.5"/>
<use href="#t" x="288.2" y="267.0"/>
<use href="#t" x="296.0" y="226.4"/>
<use href="#t" x="370.4" y="272.8"/>
<use href="#t" x="335.6" y="208.2"/>
<use href="#t" x="278.7" y="294.3"/>
<use href="#t" x="348.3" y="196.1"/>
<use href="#t" x="403.7" y="235.1"/>
<use href="#t" x="245.7" y="236.0"/>
<use href="#t" x="384.3" y="251.8"/>
<use href="#t" x="285.7" y="203.5"/>
<use href="#c" x="357.9" y="216.1"/>
<use href="#t" x="286.1" y="233.7"/>
<use href="#t" x="285.9" y="227.5"/>
<use href="#t" x="365.2" y="234.5"/>
<use href="#t" x="235.9" y="252.4"/>
<use href="#t" x="352.1" y="272.8"/>
<use href="#t" x="341.7" y="278.5"/>
<use href="#t" x="322.2" y="262.0"/>
<use href="#t" x="281.5" y="267.0"/>
<use href="#t" x="298.1" y="247.5"/>
<use href="#t" x="306.1" y="213.9"/>
<use href="#t" x="318.8" y="267.0"/>
<use href="#t" x="312.8" y="262.0"/>
<use href="#t" x="329.2" y="262.0"/>
<use href="#t" x="289.2" y="220.0"/>
<use href="#t" x="328.2" y="234.6"/>
<use href="#t" x="368.1" y="243.6"/>
<use href="#t" x="220.9" y="278.5"/>
<use href="#t" x="316.6" y="233.4"/>
<use href="#t" x="286.0" y="235.1"/>
<use href="#t" x="248.6" y="214.9"/>
<use href="#t" x="239.6" y="284.8"/>
<use href="#t" x="327.3" y="278.5"/>
<use href="#t" x="393.1" y="218.3"/>
<use href="#t" x="359.7" y="245.2"/>
<use href="#c" x="376.9" y="243.2"/>
<use href="#t" x="263.3" y="233.5"/>
<use href="#t" x="386.0" y="225.2"/>
<use href="#c" x="344.6" y="194.6"/>
<use href="#t" x="331.6" y="257.3"/>
<use href="#t" x="316.6" y="218.7"/>
<use href="#c" x="220.8" y="257.3"/>
<use href="#t" x="239.5" y="232.7"/>
<use href="#t" x="346.3" y="272.8"/>
<use href="#t" x="277.9" y="213.1"/>
<use href="#t" x="271.2" y="251.9"/>
<use href="#t" x="364.6" y="239.2"/>
<use href="#t" x="333.3" y="252.7"/>
<use href="#t" x="314.5" y="272.8"/>
<use href="#c" x="368.4" y="262.0"/>
<use href="#c" x="291.6" y="240.8"/>
<use href="#t" x="258.0" y="197.4"/>
<use href="#t" x="341.4" y="267.0"/>
<use href="#t" x="284.3" y="204.4"/>
<use href="#t" x="258.5" y="294.3"/>
<use href="#t" x="283.1" y="267.0"/>
<use href="#t" x="388.3" y="213.6"/>
<use href="#t" x="331.9" y="207.9"/>
<use href="#t" x="292.9" y="194.8"/>
<use href="#t" x="356.1" y="223.5"/>
<use href="#t" x="254.4" y="237.5"/>
<use href="#t" x="281.7" y="294.3"/>
<use href="#t" x="316.6" y="199.9"/>
<use href="#t" x="374.2" y="246.7"/>
<use href="#t" x="368.9" y="252.2"/>
<use href="#t" x="274.3" y="235.0"/>
<use href="#t" x="255.3" y="223.6"/>
<use href="#c" x="348.0" y="238.3"/>
<use href="#t" x="375.3" y="229.0"/>
<use href="#t" x="286.1" y="194.2"/>
<use href="#t" x="233.0" y="230.0"/>
<use href="#t" x="235.3" y="211.5"/>
<use href="#t" x="277.4" y="239.8"/>
<use href="#t" x="278.8" y="240.3"/>
<use href="#t" x="225.5" y="257.3"/>
<use href="#t" x="236.9" y="211.9"/>
<use href="#t" x="385.3" y="233.3"/>
<use href="#t" x="273.6" y="278.5"/>
<use href="#t" x="213.4" y="267.0"/>
<use href="#t" x="308.5" y="200.0"/>
<use href="#t" x="349.6" y="267.0"/>
<use href="#t" x="325.3" y="257.3"/>
<use href="#c" x="369.3" y="278.5"/>
<use href="#t" x="257.5" y="267.0"/>
<use href="#t" x="235.4" y="257.3"/>
<use href="#t" x="311.8" y="211.5"/>
<use href="#t" x="349.4" y="257.3"/>
<use href="#c" x="394.9" y="225.4"/>
<use href="#t" x="292.1" y="201.2"/>
<use href="#c" x="228.0" y="284.8"/>
<use href="#c" x="293.3" y="224.4"/>
<use href="#t" x="294.3" y="284.8"/>
<use href="#t" x="315.7" y="267.0"/>
<use href="#t" x="373.2" y="232.4"/>
<use href="#t" x="262.6" y="226.0"/>
<use href="#t" x="325.4" y="201.1"/>
<use href="#t" x="266.7" y="207.0"/>
<use href="#t" x="237.9" y="272.8"/>
<use href="#t" x="332.3" y="211.4"/>
<use href="#t" x="210.8" y="262.0"/>
<use href="#t" x="370.5" y="224.7"/>
<use href="#t" x="212.0" y="257.3"/>
<use href="#t" x="260.9" y="278.5"/>
<use href="#t" x="346.9" y="252.8"/>
<use href="#c" x="379.0" y="215.5"/>
<use href="#t" x="238.4" y="284.8"/>
<use href="#t" x="211.4" y="250.0"/>
<use href="#t" x="380.1" y="233.6"/>
<use href="#t" x="281.0" y="278.5"/>
<use href="#t" x="416.4" y="219.1"/>
<use href="#t" x="255.4" y="267.0"/>
<use href="#t" x="294.6" y="267.0"/>
<use href="#t" x="376.1" y="262.0"/>
<use href="#t" x="256.4" y="278.5"/>
<use href="#t" x="299.3" y="262.0"/>
<use href="#c" x="351.6" y="227.2"/>
<use href="#t" x="219.9" y="257.3"/>
<use href="#t" x="320.4" y="197.2"/>
<use href="#t" x="264.0" y="247.5"/>
<use href="#t" x="258.5" y="284.8"/>
<use href="#t" x="240.3" y="250.9"/>
<use href="#t" x="276.5" y="267.0"/>
<use href="#t" x="272.7" y="195.8"/>
<use href="#t" x="247.7" y="242.8"/>
<use href="#t" x="310.5" y="239.9"/>
<use href="#t" x="222.7" y="229.5"/>
<use href="#t" x="227.6" y="244.4"/>
<use href="#t" x="329.6" y="220.5"/>
<use href="#t" x="309.2" y="233.4"/>
<use href="#t" x="341.3" y="245.9"/>
<use href="#c" x="405.2" y="221.3"/>
<use href="#t" x="236.6" y="207.5"/>
<use href="#t" x="302.2" y="242.3"/>
<use href="#t" x="405.2" y="229.7"/>
<use href="#t" x="308.6" y="230.1"/>
<use href="#t" x="295.3" y="202.4"/>
<use href="#t" x="267.2" y="209.3"/>
<use href="#t" x="277.4" y="257.3"/>
<use href="#t" x="221.9" y="272.8"/>
<use href="#t" x="361.4" y="253.4"/>
<use href="#t" x="313.3" y="278.5"/>
<use href="#t" x="334.4" y="257.3"/>
<use href="#t" x="254.8" y="227.1"/>
<use href="#t" x="259.1" y="208.2"/>
<use href="#t" x="330.7" y="238.5"/>
<use href="#t" x="243.3" y="210.9"/>
<use href="#t" x="321.3" y="212.6"/>
<use href="#t" x="316.6" y="227.1"/>
<use href="#t" x="281.9" y="197.7"/>
<use href="#t" x="366.6" y="257.3"/>
<use href="#t" x="345.7" y="241.3"/>
<use href="#t" x="256.7" y="224.2"/>
<use href="#t" x="290.9" y="278.5"/>
<use href="#t" x="336.4" y="211.1"/>
<use href="#t" x="266.7" y="226.7"/>
<use href="#t" x="291.2" y="284.8"/>
<use href="#t" x="396.9" y="231.7"/>
<use href="#t" x="288.2" y="209.2"/>
<use href="#t" x="345.2" y="267.0"/>
<use href="#t" x="297.8" y="228.8"/>
<use href="#t" x="266.4" y="229.3"/>
<use href="#c" x="398.0" y="238.9"/>
<use href="#t" x="209.1" y="249.2"/>
<use href="#t" x="322.2" y="235.6"/>
<use href="#t" x="325.7" y="248.9"/>
<use href="#t" x="270.8" y="229.1"/>
<use href="#c" x="385.6" y="232.3"/>
<use href="#c" x="306.9" y="195.6"/>
<use href="#t" x="351.3" y="214.3"/>
<use href="#t" x="238.0" y="267.0"/>
<use href="#t" x="243.0" y="206.8"/>
<use href="#t" x="244.2" y="205.3"/>
<use href="#t" x="251.1" y="262.0"/>
<use href="#t" x="257.9" y="229.5"/>
<use href="#t" x="289.9" y="230.5"/>
<use href="#t" x="244.1" y="218.5"/>
<use href="#t" x="340.3" y="202.0"/>
<use href="#t" x="358.6" y="239.3"/>
<use href="#t" x="379.1" y="233.1"/>
<use href="#t" x="405.4" y="236.1"/>
<use href="#t" x="278.2" y="237.4"/>
<use href="#t" x="249.8" y="241.3"/>
<use href="#t" x="357.7" y="262.0"/>
<use href="#t" x="317.8" y="278.5"/>
<use href="#t" x="305.2" y="209.1"/>
<use href="#t" x="228.4" y="251.1"/>
<use href="#t" x="340.0" y="230.9"/>
<use href="#t" x="276.9" y="206.1"/>
<use href="#t" x="285.1" y="267.0"/>
<use href="#t" x="249.1" y="212.0"/>
<use href="#t" x="286.2" y="267.0"/>
<use href="#t" x="334.4" y="195.2"/>
<use href="#t" x="228.9" y="212.0"/>
<use href="#t" x="313.4" y="198.6"/>
<use href="#t" x="271.0" y="214.5"/>
<use href="#t" x="348.7" y="262.0"/>
<use href="#t" x="288.5" y="262.0"/>
<use href="#t" x="278.2" y="278.5"/>
<use href="#t" x="251.9" y="284.8"/>
<use href="#t" x="395.9" y="238.1"/>
<use href="#t" x="218.1" y="232.4"/>
<use href="#t" x="214.9" y="267.0"/>
<use href="#t" x="239.2" y="257.3"/>
<use href="#t" x="297.9" y="195.8"/>
<use href="#t" x="309.3" y="245.0"/>
<use href="#t" x="325.4" y="197.7"/>
<use href="#t" x="337.9" y="202.3"/>
<use href="#t" x="276.2" y="202.2"/>
<use href="#t" x="313.2" y="202.6"/>
<use href="#t" x="273.6" y="199.2"/>
<use href="#t" x="223.6" y="222.4"/>
<use href="#t" x="331.5" y="228.5"/>
<use href="#t" x="365.6" y="278.5"/>
<use href="#t" x="299.1" y="228.5"/>
<use href="#t" x="290.4" y="244.0"/>
<use href="#t" x="264.4" y="229.4"/>
<use href="#t" x="302.5" y="204.8"/>
<use href="#c" x="227.1" y="237.3"/>
<use href="#c" x="303.7" y="234.6"/>
<use href="#t" x="230.8" y="239.6"/>
<use href="#t" x="246.9" y="243.6"/>
<use href="#t" x="351.4" y="205.1"/>
<use href="#t" x="373.4" y="238.0"/>
<use href="#t" x="323.0" y="278.5"/>
<use href="#t" x="253.3" y="250.9"/>
<use href="#t" x="330.3" y="250.2"/>
<use href="#t" x="329.8" y="257.3"/>
<use href="#t" x="405.5" y="216.6"/>
<use href="#t" x="232.3" y="257.3"/>
<use href="#t" x="345.0" y="245.1"/>
<use href="#t" x="257.1" y="196.3"/>
<use href="#t" x="287.2" y="272.8"/>
<use href="#t" x="243.7" y="242.6"/>
<use href="#t" x="269.2" y="202.9"/>
<use href="#t" x="280.8" y="224.5"/>
<use href="#t" x="251.7" y="219.7"/>
<use href="#t" x="410.8" y="216.6"/>
<use href="#t" x="303.6" y="203.4"/>
<use href="#t" x="382.8" y="228.3"/>
<use href="#t" x="212.8" y="234.2"/>
<use href="#t" x="331.2" y="210.3"/>
<use href="#t" x="326.7" y="240.8"/>
<use href="#t" x="235.5" y="235.4"/>
<use href="#t" x="283.9" y="200.3"/>
<use href="#t" x="323.1" y="201.3"/>
<use href="#t" x="340.4" y="221.0"/>
<use href="#t" x="319.0" y="252.8"/>
<use href="#t" x="249.1" y="220.1"/>
<use href="#t" x="288.7" y="243.3"/>
<use href="#c" x="343.4" y="237.1"/>
<use href="#t" x="373.0" y="278.5"/>
<use href="#t" x="257.7" y="267.0"/>
<use href="#c" x="362.7" y="272.8"/>
<use href="#t" x="243.4" y="257.3"/>
<use href="#t" x="256.7" y="247.5"/>
<use href="#t" x="276.4" y="257.3"/>
<use href="#c" x="357.6" y="215.9"/>
<use href="#t" x="326.6" y="204.9"/>
<use href="#t" x="247.2" y="284.8"/>
<use href="#t" x="240.2" y="249.3"/>
<use href="#t" x="319.6" y="216.6"/>
<use href="#t" x="300.0" y="278.5"/>
<use href="#c" x="256.1" y="278.5"/>
<use href="#t" x="360.4" y="278.5"/>
<use href="#t" x="261.3" y="197.0"/>
<use href="#t" x="322.8" y="242.8"/>
<use href="#t" x="226.6" y="284.8"/>
<use href="#t" x="261.6" y="262.0"/>
<use href="#t" x="341.6" y="193.0"/>
<use href="#c" x="303.5" y="221.9"/>
<use href="#t" x="246.6" y="200.3"/>
<use href="#t" x="359.7" y="278.5"/>
<use href="#t" x="395.5" y="224.7"/>
<use href="#t" x="251.1" y="214.5"/>
<use href="#t" x="247.8" y="209.4"/>
<use href="#t" x="277.7" y="235.8"/>
<use href="#t" x="258.1" y="284.8"/>
<use href="#t" x="222.0" y="250.7"/>
<use href="#t" x="295.4" y="248.4"/>
<use href="#t" x="339.7" y="253.6"/>
<use href="#t" x="340.5" y="242.2"/>
<use href="#t" x="302.1" y="267.0"/>
<use href="#t" x="326.0" y="267.0"/>
<use href="#t" x="337.3" y="225.1"/>
<use href="#t" x="349.6" y="232.9"/>
<use href="#t" x="284.4" y="213.4"/>
<use href="#t" x="320.4" y="257.3"/>
<use href="#t" x="318.0" y="257.3"/>
<use href="#t" x="350.2" y="257.3"/>
<use href="#t" x="310.5" y="233.8"/>
<use href="#t" x="210.0" y="251.5"/>
<use href="#t" x="264.2" y="222.7"/>
<use href="#c" x="368.4" y="222.1"/>
<use href="#t" x="400.1" y="246.1"/>
<use href="#c" x="298.9" y="231.6"/>
<use href="#t" x="331.0" y="206.9"/>
<use href="#t" x="247.8" y="284.8"/>
<use href="#t" x="385.4" y="267.0"/>
<use href="#t" x="330.7" y="222.1"/>
<use href="#c" x="269.8" y="278.5"/>
<use href="#t" x="313.5" y="240.6"/>
<use href="#t" x="235.0" y="284.8"/>
<use href="#t" x="226.2" y="216.3"/>
<use href="#t" x="283.4" y="226.3"/>
<use href="#t" x="272.2" y="198.9"/>
<use href="#t" x="362.9" y="234.9"/>
<use href="#t" x="269.3" y="219.5"/>
<use href="#t" x="340.1" y="257.3"/>
<use href="#t" x="243.0" y="284.8"/>
<use href="#t" x="213.2" y="251.8"/>
<use href="#t" x="229.2" y="241.3"/>
<use href="#t" x="284.2" y="197.7"/>
<use href="#t" x="321.2" y="214.5"/>
<use href="#t" x="347.6" y="218.7"/>
<use href="#t" x="324.3" y="229.8"/>
<use href="#c" x="397.6" y="215.2"/>
<use href="#t" x="247.5" y="239.6"/>
<use href="#t" x="272.8" y="284.8"/>
<use href="#t" x="322.0" y="272.8"/>
<use href="#t" x="317.7" y="232.4"/>
<use href="#t" x="383.2" y="248.6"/>
<use href="#t" x="230.1" y="272.8"/>
<use href="#t" x="309.5" y="219.1"/>
<use href="#t" x="358.8" y="257.3"/>
<use href="#t" x="304.0" y="230.0"/>
<use href="#t" x="316.4" y="195.1"/>
<use href="#c" x="224.0" y="267.0"/>
<use href="#t" x="240.3" y="243.3"/>
<use href="#t" x="363.9" y="230.9"/>
<use href="#t" x="304.0" y="294.3"/>
<use href="#c" x="403.2" y="236.5"/>
<use href="#t" x="350.6" y="243.9"/>
<use href="#t" x="329.5" y="278.5"/>
<use href="#t" x="246.3" y="284.8"/>
<use href="#t" x="376.1" y="262.0"/>
<use href="#t" x="299.1" y="209.7"/>
<use href="#t" x="331.9" y="216.5"/>
<use href="#t" x="320.3" y="196.1"/>
<use href="#t" x="250.2" y="272.8"/>
<use href="#t" x="248.5" y="236.4"/>
<use href="#t" x="284.9" y="272.8"/>
<use href="#c" x="363.2" y="251.3"/>
<use href="#t" x="395.9" y="257.3"/>
<use href="#t" x="373.5" y="213.9"/>
<use href="#t" x="272.7" y="208.7"/>
<use href="#t" x="344.2" y="203.8"/>
<use href="#t" x="369.9" y="248.3"/>
<use href="#t" x="297.9" y="202.3"/>
<use href="#t" x="294.9" y="278.5"/>
<use href="#t" x="225.4" y="244.3"/>
<use href="#t" x="353.8" y="235.6"/>
<use href="#t" x="207.3" y="262.0"/>
<use href="#t" x="288.8" y="224.4"/>
<use href="#t" x="228.1" y="257.3"/>
<use href="#t" x="296.7" y="272.8"/>
<use href="#t" x="233.2" y="210.6"/>
<use href="#t" x="352.3" y="257.3"/>
<use href="#t" x="279.4" y="272.8"/>
<use href="#t" x="389.2" y="250.9"/>
<use href="#t" x="264.9" y="284.8"/>
<use href="#c" x="309.3" y="245.8"/>
<use href="#t" x="218.0" y="272.8"/>
<use href="#t" x="304.6" y="242.7"/>
<use href="#t" x="318.5" y="189.3"/>
<use href="#t" x="239.7" y="231.1"/>
<use href="#c" x="338.9" y="208.1"/>
<use href="#t" x="240.3" y="278.5"/>
<use href="#t" x="344.2" y="195.0"/>
<use href="#t" x="257.9" y="233.5"/>
<use href="#t" x="352.8" y="262.0"/>
<use href="#t" x="285.8" y="278.5"/>
<use href="#t" x="323.9" y="245.1"/>
<use href="#c" x="335.7" y="224.6"/>
<use href="#t" x="228.0" y="247.6"/>
<use href="#t" x="376.2" y="251.1"/>
<use href="#t" x="354.0" y="278.5"/>
<use href="#t" x="248.9" y="228.5"/>
<use href="#c" x="405.0" y="251.1"/>
<use href="#t" x="304.7" y="246.4"/>
<use href="#t" x="244.6" y="250.3"/>
<use href="#t" x="285.7" y="196.9"/>
<use href="#t" x="265.9" y="215.1"/>
<use href="#t" x="282.1" y="272.8"/>
<use href="#t" x="295.8" y="284.8"/>
<use href="#t" x="356.0" y="235.4"/>
<use href="#c" x="294.1" y="250.9"/>
<use href="#t" x="275.4" y="257.3"/>
<use href="#t" x="304.9" y="229.1"/>
<use href="#t" x="265.5" y="221.3"/>
<use href="#t" x="309.7" y="235.2"/>
<use href="#t" x="286.2" y="215.3"/>
<use href="#t" x="220.6" y="257.3"/>
<use href="#t" x="307.2" y="230.5"/>
<use href="#t" x="240.0" y="205.2"/>
<use href="#t" x="267.0" y="262.0"/>
<use href="#t" x="283.1" y="257.3"/>
<use href="#t" x="327.0" y="252.9"/>
<use href="#t" x="335.9" y="225.0"/>
<use href="#t" x="330.7" y="278.5"/>
<use href="#t" x="242.8" y="226.3"/>
<use href="#t" x="302.2" y="245.1"/>
<use href="#t" x="395.6" y="234.1"/>
<use href="#t" x="361.4" y="227.3"/>
<use href="#t" x="278.4" y="233.5"/>
<use href="#t" x="259.2" y="257.3"/>
<use href="#t" x="353.3" y="207.3"/>
<use href="#t" x="235.8" y="238.2"/>
<use href="#t" x="241.8" y="284.8"/>
<use href="#t" x="379.6" y="272.8"/>
<use href="#t" x="391.3" y="224.6"/>
<use href="#t" x="361.8" y="250.3"/>
<use href="#c" x="373.9" y="257.3"/>
<use href="#t" x="255.2" y="249.9"/>
<use href="#t" x="293.9" y="262.0"/>
<use href="#t" x="269.3" y="198.2"/>
<use href="#t" x="331.8" y="190.8"/>
<use href="#t" x="358.0" y="224.4"/>
<use href="#t" x="352.3" y="232.3"/>
<use href="#t" x="355.8" y="218.2"/>
<use href="#c" x="349.2" y="248.3"/>
<use href="#t" x="233.2" y="231.0"/>
<use href="#t" x="318.8" y="226.5"/>
<use href="#c" x="372.2" y="267.0"/>
<use href="#t" x="272.2" y="206.4"/>
<use href="#t" x="255.1" y="239.8"/>
<use href="#c" x="345.6" y="210.3"/>
<use href="#t" x="266.8" y="278.5"/>
<use href="#t" x="331.2" y="257.3"/>
<use href="#t" x="267.7" y="220.2"/>
<use href="#t" x="328.5" y="191.8"/>
<use href="#t" x="365.0" y="248.2"/>
<use href="#t" x="307.3" y="257.3"/>
<use href="#t" x="266.0" y="214.6"/>
<use href="#t" x="315.6" y="191.4"/>
<use href="#c" x="367.6" y="224.1"/>
<use href="#t" x="293.7" y="245.6"/>
<use href="#t" x="242.8" y="278.5"/>
<use href="#t" x="353.2" y="214.3"/>
<use href="#t" x="283.2" y="278.5"/>
<use href="#t" x="260.7" y="294.3"/>
<use href="#t" x="349.1" y="267.0"/>
<use href="#t" x="290.2" y="242.5"/>
<use href="#t" x="281.9" y="228.8"/>
<use href="#t" x="299.4" y="278.5"/>
<use href="#t" x="278.3" y="241.7"/>
<use href="#t" x="326.7" y="262.0"/>
<use href="#c" x="268.0" y="219.8"/>
<use href="#t" x="382.5" y="224.3"/>
<use href="#t" x="243.9" y="238.8"/>
<use href="#t" x="319.5" y="218.1"/>
<use href="#t" x="299.1" y="262.0"/>
<use href="#t" x="284.5" y="294.3"/>
<use href="#t" x="245.1" y="272.8"/>
<use href="#t" x="251.6" y="284.8"/>
<use href="#t" x="251.8" y="202.4"/>
<use href="#t" x="266.1" y="249.8"/>
<use href="#t" x="382.4" y="242.6"/>
<use href="#t" x="363.0" y="236.4"/>
<use href="#t" x="265.6" y="196.1"/>
<use href="#t" x="239.2" y="250.1"/>
<use href="#t" x="420.0" y="224.7"/>
<use href="#t" x="356.6" y="278.5"/>
<use href="#t" x="388.6" y="219.3"/>
<use href="#c" x="270.0" y="257.3"/>
<use href="#t" x="260.5" y="245.7"/>
<use href="#t" x="397.4" y="250.9"/>
<use href="#t" x="246.7" y="233.4"/>
<use href="#t" x="280.7" y="257.3"/>
<use href="#t" x="275.1" y="236.6"/>
<use href="#t" x="231.9" y="278.5"/>
<use href="#t" x="360.8" y="230.8"/>
<use href="#t" x="255.6" y="202.6"/>
<use href="#t" x="297.8" y="232.2"/>
<use href="#t" x="225.6" y="214.4"/>
<use href="#t" x="246.5" y="278.5"/>
<use href="#t" x="378.2" y="247.7"/>
<use href="#t" x="203.5" y="251.5"/>
<use href="#t" x="322.7" y="195.9"/>
<use href="#t" x="339.1" y="198.7"/>
<use href="#t" x="221.3" y="248.8"/>
<use href="#t" x="225.8" y="236.2"/>
<use href="#t" x="270.3" y="250.0"/>
<use href="#c" x="396.2" y="231.2"/>
<use href="#t" x="253.9" y="205.4"/>
<use href="#t" x="270.1" y="262.0"/>
<use href="#t" x="247.2" y="284.8"/>
<use href="#t" x="305.3" y="267.0"/>
<use href="#t" x="279.2" y="262.0"/>
<use href="#t" x="352.6" y="230.4"/>
<use href="#t" x="310.7" y="200.1"/>
<use href="#t" x="216.2" y="267.0"/>
<use href="#t" x="304.7" y="221.5"/>
<use href="#t" x="265.0" y="227.6"/>
<use href="#t" x="267.1" y="284.8"/>
<use href="#t" x="247.5" y="235.9"/>
<use href="#t" x="326.6" y="226.3"/>
<use href="#t" x="389.7" y="224.9"/>
<use href="#t" x="221.7" y="220.6"/>
<use href="#t" x="290.6" y="257.3"/>
<use href="#t" x="256.6" y="284.8"/>
<use href="#t" x="378.0" y="267.0"/>
<use href="#t" x="316.6" y="250.8"/>
<use href="#t" x="358.8" y="272.8"/>
<use href="#t" x="242.3" y="284.8"/>
<use href="#c" x="352.6" y="225.4"/>
<use href="#t" x="250.0" y="267.0"/>
<use href="#t" x="250.8" y="218.1"/>
<use href="#t" x="320.8" y="211.8"/>
<use href="#t" x="256.9" y="267.0"/>
<use href="#t" x="282.4" y="267.0"/>
<use href="#t" x="262.6" y="228.9"/>
<use href="#t" x="280.7" y="200.7"/>
<use href="#t" x="256.2" y="236.5"/>
<use href="#t" x="353.9" y="227.9"/>
<use href="#t" x="291.3" y="240.7"/>
<use href="#t" x="394.8" y="213.9"/>
<use href="#t" x="295.1" y="191.6"/>
<use href="#t" x="261.1" y="202.2"/>
<use href="#t" x="353.1" y="214.9"/>
<use href="#t" x="332.2" y="200.9"/>
<use href="#t" x="335.4" y="204.6"/>
<use href="#t" x="278.2" y="294.3"/>
<use href="#c" x="233.4" y="225.0"/>
<use href="#t" x="247.4" y="231.4"/>
<use href="#t" x="324.0" y="267.0"/>
<use href="#t" x="346.9" y="221.4"/>
<use href="#t" x="266.5" y="205.3"/>
<use href="#t" x="282.7" y="284.8"/>
<use href="#t" x="224.7" y="234.0"/>
<use href="#t" x="230.9" y="242.5"/>
<use href="#t" x="245.4" y="199.5"/>
<use href="#t" x="300.1" y="237.3"/>
<use href="#c" x="382.6" y="267.0"/>
<use href="#t" x="273.0" y="215.6"/>
<use href="#t" x="292.3" y="267.0"/>
<use href="#t" x="229.3" y="253.7"/>
<use href="#t" x="342.5" y="227.9"/>
<use href="#t" x="344.7" y="262.0"/>
<use href="#t" x="293.0" y="198.5"/>
<use href="#t" x="335.3" y="257.3"/>
<use href="#t" x="316.4" y="249.0"/>
<use href="#t" x="212.4" y="267.0"/>
<use href="#t" x="285.8" y="192.6"/>
<use href="#t" x="340.9" y="278.5"/>
<use href="#t" x="221.0" y="227.3"/>
<use href="#c" x="218.3" y="278.5"/>
<use href="#t" x="353.2" y="278.5"/>
<use href="#c" x="284.9" y="253.1"/>
<use href="#t" x="285.5" y="233.6"/>
<use href="#t" x="248.4" y="212.5"/>
<use href="#t" x="349.4" y="272.8"/>
<use href="#t" x="390.7" y="234.7"/>
<use href="#t" x="378.2" y="257.3"/>
<use href="#t" x="400.0" y="257.3"/>
<use href="#t" x="310.1" y="278.5"/>
<use href="#t" x="304.4" y="267.0"/>
<use href="#t" x="317.9" y="225.7"/>
<use href="#t" x="266.7" y="199.6"/>
<use href="#t" x="254.1" y="278.5"/>
<use href="#t" x="252.9" y="229.6"/>
<use href="#t" x="231.7" y="206.7"/>
<use href="#t" x="339.7" y="215.0"/>
<use href="#t" x="290.8" y="235.9"/>
<use href="#c" x="371.0" y="272.8"/>
<use href="#c" x="386.2" y="278.5"/>
<use href="#t" x="329.3" y="231.9"/>
<use href="#t" x="289.0" y="217.0"/>
<use href="#t" x="359.2" y="222.3"/>
<use href="#t" x="256.9" y="239.7"/>
<use href="#t" x="276.1" y="229.4"/>
<use href="#t" x="268.6" y="221.1"/>
<use href="#t" x="264.8" y="193.9"/>
<use href="#t" x="374.3" y="267.0"/>
<use href="#t" x="289.7" y="198.5"/>
<use href="#t" x="289.3" y="272.8"/>
<use href="#t" x="325.6" y="257.3"/>
<use href="#t" x="270.6" y="206.1"/>
<use href="#t" x="222.2" y="244.2"/>
<use href="#c" x="409.0" y="237.9"/>
<use href="#t" x="229.4" y="267.0"/>
<use href="#t" x="298.2" y="231.3"/>
<use href="#t" x="319.5" y="206.3"/>
<use href="#t" x="322.6" y="201.5"/>
<use href="#t" x="414.3" y="233.1"/>
<use href="#t" x="358.4" y="232.5"/>
<use href="#t" x="350.4" y="200.8"/>
<use href="#t" x="230.7" y="228.8"/>
<use href="#t" x="336.1" y="241.2"/>
<use href="#t" x="349.5" y="252.5"/>
<use href="#t" x="245.2" y="253.0"/>
<use href="#t" x="400.8" y="238.2"/>
<use href="#t" x="242.3" y="237.1"/>
<use href="#c" x="309.4" y="278.5"/>
<use href="#t" x="284.8" y="267.0"/>
<use href="#t" x="315.4" y="244.4"/>
<use href="#t" x="375.0" y="227.3"/>
<use href="#t" x="303.8" y="243.8"/>
<use href="#t" x="364.9" y="240.0"/>
<use href="#c" x="230.3" y="191.9"/>
<use href="#c" x="139.3" y="224.8"/>
<use href="#c" x="203.5" y="218.9"/>
<use href="#c" x="203.0" y="232.6"/>
<use href="#c" x="195.3" y="240.9"/>
<use href="#c" x="203.2" y="260.9"/>
<use href="#c" x="375.9" y="89.7"/>
<use href="#c" x="411.7" y="157.9"/>
<use href="#c" x="444.8" y="173.2"/>
<use href="#c" x="371.0" y="184.3"/>
<use href="#c" x="375.9" y="185.3"/>
<use href="#c" x="370.6" y="189.8"/>
<use href="#c" x="415.7" y="186.2"/>
<use href="#c" x="412.0" y="200.2"/>
<use href="#c" x="414.6" y="203.4"/>
<use href="#c" x="398.4" y="201.7"/>
<use href="#c" x="398.0" y="206.6"/>
<use href="#c" x="391.0" y="205.7"/>
<use href="#c" x="350.6" y="189.8"/>
<use href="#c" x="340.0" y="192.0"/>
<use href="#c" x="511.7" y="167.0"/>
<use href="#c" x="443.4" y="219.0"/>
<use href="#c" x="443.9" y="225.0"/>
<use href="#c" x="421.7" y="253.2"/>
<use href="#c" x="175.0" y="309.6"/>
<use href="#c" x="195.3" y="309.6"/>
<use href="#c" x="229.9" y="333.9"/>
<use href="#c" x="215.4" y="294.5"/>
<use href="#c" x="226.0" y="294.5"/>
<use href="#c" x="243.0" y="294.5"/>
<use href="#c" x="261.2" y="309.3"/>
<use href="#c" x="274.5" y="308.8"/>
<use href="#c" x="280.9" y="309.3"/>
<use href="#c" x="323.2" y="294.3"/>
<use href="#c" x="336.5" y="294.3"/>
<use href="#c" x="382.1" y="294.3"/>
<use href="#c" x="303.7" y="284.8"/>
<use href="#c" x="335.6" y="284.8"/>
<use href="#c" x="343.0" y="284.8"/>
<use href="#c" x="359.3" y="284.8"/>
<use href="#c" x="389.4" y="278.5"/>
<use href="#c" x="390.3" y="272.8"/>
<use href="#c" x="269.6" y="147.0"/>
<use href="#c" x="330.8" y="167.3"/>
<use href="#c" x="277.0" y="189.3"/>
<use href="#c" x="335.8" y="185.7"/>
<use href="#c" x="329.4" y="190.2"/>
<use href="#t" x="203.5" y="201.2"/>
<use href="#t" x="366.8" y="110.4"/>
<use href="#t" x="370.1" y="163.6"/>
<use href="#t" x="390.5" y="174.9"/>
<use href="#t" x="423.0" y="187.7"/>
<use href="#t" x="458.6" y="192.7"/>
<use href="#t" x="381.6" y="193.0"/>
<use href="#t" x="387.8" y="195.4"/>
<use href="#t" x="397.5" y="195.4"/>
<use href="#t" x="383.8" y="199.4"/>
<use href="#t" x="350.0" y="196.8"/>
<use href="#t" x="378.3" y="206.8"/>
<use href="#t" x="473.4" y="146.6"/>
<use href="#t" x="538.8" y="214.3"/>
<use href="#t" x="434.6" y="223.9"/>
<use href="#t" x="427.8" y="213.8"/>
<use href="#t" x="407.2" y="260.2"/>
<use href="#t" x="160.1" y="278.4"/>
<use href="#t" x="185.8" y="257.5"/>
<use href="#t" x="195.0" y="257.5"/>
<use href="#t" x="226.3" y="294.6"/>
<use href="#t" x="238.5" y="294.6"/>
<use href="#t" x="272.0" y="309.4"/>
<use href="#t" x="330.0" y="294.3"/>
<use href="#t" x="319.2" y="284.8"/>
<use href="#t" x="368.5" y="284.8"/>
<use href="#t" x="317.7" y="175.7"/>
<use href="#t" x="291.1" y="181.6"/>
<use href="#t" x="247.0" y="189.4"/>
<use href="#t" x="267.8" y="189.4"/>
<use href="#t" x="307.5" y="187.2"/>
<use href="#t" x="318.9" y="186.7"/>
</g>
<g stroke="#1c1c1c" stroke-width="1.55" fill="none">
<rect x="63.6" y="65.25" width="585.6" height="324.2"/>
<line x1="63.6" y1="389.5" x2="63.6" y2="394.5"/><line x1="180.7" y1="389.5" x2="180.7" y2="394.5"/><line x1="297.8" y1="389.5" x2="297.8" y2="394.5"/><line x1="415.0" y1="389.5" x2="415.0" y2="394.5"/><line x1="532.1" y1="389.5" x2="532.1" y2="394.5"/><line x1="649.2" y1="389.5" x2="649.2" y2="394.5"/><line x1="58.6" y1="65.2" x2="63.6" y2="65.2"/><line x1="58.6" y1="146.3" x2="63.6" y2="146.3"/><line x1="58.6" y1="227.4" x2="63.6" y2="227.4"/><line x1="58.6" y1="308.4" x2="63.6" y2="308.4"/><line x1="58.6" y1="389.5" x2="63.6" y2="389.5"/>
</g>
<text x="63.4" y="412.4" text-anchor="middle">0.01</text><text x="180.5" y="412.4" text-anchor="middle">0.1</text><text x="298.7" y="412.4" text-anchor="middle">1.0</text><text x="415.9" y="412.4" text-anchor="middle">10</text><text x="533.0" y="412.4" text-anchor="middle">100</text><text x="650.1" y="412.4" text-anchor="middle">1000</text><text x="51.5" y="70.0" text-anchor="end">100</text><text x="51.5" y="150.3" text-anchor="end">10</text><text x="51.5" y="231.3" text-anchor="end">1.0</text><text x="50.4" y="312.5" text-anchor="end">0.1</text><text x="50.4" y="393.8" text-anchor="end">0.01</text>
<g class="lb">
<text x="297.6" y="51.7" textLength="118.6">Pooled record 1–4</text>
<text x="69.6" y="85.4" textLength="137.4">Cholestasis quadrant</text>
<text x="512" y="85.6" textLength="120.6">Hy’s Law quadrant</text>
<text x="450.8" y="379.7" textLength="182.4">Temple’s Corollary quadrant</text>
<text x="570.6" y="194.8" textLength="53">2 <tspan class="mu">×</tspan> ULN</text>
<text transform="translate(344,377.4) rotate(-90)" textLength="53">3 <tspan class="mu">×</tspan> ULN</text>
<text x="280.2" y="435.7" textLength="154">ALT in multiples of ULN</text>
<text transform="translate(13.1,298) rotate(-90)" textLength="144">TB in multiples of ULN</text>
<text x="503" y="10.7" textLength="163.2">Comparator (enoxaparin)</text>
<text x="502.6" y="28.5" textLength="82">Rivaroxaban</text>
</g>
<circle cx="486.5" cy="4.8" r="4.45" fill="#606060" stroke="#1e1e1e" stroke-width="1.9"/>
<path d="M486.5 19.9 L490.5 28 L482.5 28 Z" fill="#f4f4f4" stroke="#1e1e1e" stroke-width="1.7"/>
</svg>
</body></html>
